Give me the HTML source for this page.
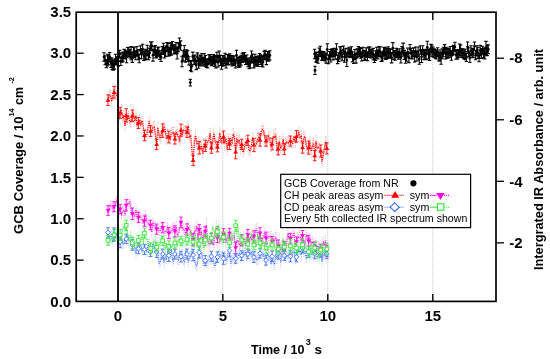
<!DOCTYPE html>
<html><head><meta charset="utf-8"><style>
html,body{margin:0;padding:0;background:#fff;}
svg{display:block;}
.b{font-family:"Liberation Sans",Arial,sans-serif;font-weight:bold;fill:#000;}
.r{font-family:"Liberation Sans",Arial,sans-serif;font-weight:normal;fill:#000;}
</style></head><body>
<svg width="550" height="359" viewBox="0 0 550 359">
<line x1="222.80" y1="12.2" x2="222.80" y2="301.4" stroke="#c4c4c4" stroke-width="1" stroke-dasharray="1,1"/>
<line x1="327.80" y1="12.2" x2="327.80" y2="301.4" stroke="#c4c4c4" stroke-width="1" stroke-dasharray="1,1"/>
<line x1="432.80" y1="12.2" x2="432.80" y2="301.4" stroke="#c4c4c4" stroke-width="1" stroke-dasharray="1,1"/>
<path d="M104.00 52.72V61.19M102.30 52.72h3.40M102.30 61.19h3.40M105.15 55.70V64.66M103.45 55.70h3.40M103.45 64.66h3.40M106.30 59.55V67.68M104.60 59.55h3.40M104.60 67.68h3.40M107.45 54.30V65.90M105.75 54.30h3.40M105.75 65.90h3.40M108.60 54.18V64.70M106.90 54.18h3.40M106.90 64.70h3.40M109.75 52.40V61.46M108.05 52.40h3.40M108.05 61.46h3.40M110.90 57.73V67.43M109.20 57.73h3.40M109.20 67.43h3.40M112.05 58.03V69.73M110.35 58.03h3.40M110.35 69.73h3.40M113.20 60.80V70.14M111.50 60.80h3.40M111.50 70.14h3.40M114.35 59.72V69.10M112.65 59.72h3.40M112.65 69.10h3.40M115.50 54.21V63.95M113.80 54.21h3.40M113.80 63.95h3.40M116.65 56.65V64.97M114.95 56.65h3.40M114.95 64.97h3.40M118.50 56.44V66.10M116.80 56.44h3.40M116.80 66.10h3.40M119.65 50.15V58.20M117.95 50.15h3.40M117.95 58.20h3.40M120.80 57.10V65.49M119.10 57.10h3.40M119.10 65.49h3.40M121.95 52.74V62.10M120.25 52.74h3.40M120.25 62.10h3.40M123.10 52.03V61.33M121.40 52.03h3.40M121.40 61.33h3.40M124.25 49.35V58.17M122.55 49.35h3.40M122.55 58.17h3.40M125.40 50.23V58.85M123.70 50.23h3.40M123.70 58.85h3.40M126.55 51.53V62.77M124.85 51.53h3.40M124.85 62.77h3.40M127.70 47.59V56.81M126.00 47.59h3.40M126.00 56.81h3.40M128.85 47.16V56.45M127.15 47.16h3.40M127.15 56.45h3.40M130.00 49.61V57.94M128.30 49.61h3.40M128.30 57.94h3.40M131.15 46.51V59.69M129.45 46.51h3.40M129.45 59.69h3.40M132.30 53.94V62.38M130.60 53.94h3.40M130.60 62.38h3.40M133.45 47.56V57.05M131.75 47.56h3.40M131.75 57.05h3.40M134.60 46.91V57.69M132.90 46.91h3.40M132.90 57.69h3.40M135.75 50.79V59.75M134.05 50.79h3.40M134.05 59.75h3.40M136.90 46.51V56.33M135.20 46.51h3.40M135.20 56.33h3.40M138.05 49.62V59.81M136.35 49.62h3.40M136.35 59.81h3.40M139.20 54.18V62.83M137.50 54.18h3.40M137.50 62.83h3.40M140.35 45.68V54.71M138.65 45.68h3.40M138.65 54.71h3.40M141.50 48.62V58.70M139.80 48.62h3.40M139.80 58.70h3.40M142.65 44.25V54.47M140.95 44.25h3.40M140.95 54.47h3.40M143.80 50.99V60.51M142.10 50.99h3.40M142.10 60.51h3.40M144.95 49.30V60.08M143.25 49.30h3.40M143.25 60.08h3.40M146.10 50.70V59.07M144.40 50.70h3.40M144.40 59.07h3.40M147.25 45.17V55.53M145.55 45.17h3.40M145.55 55.53h3.40M148.40 51.04V59.76M146.70 51.04h3.40M146.70 59.76h3.40M149.55 48.14V57.72M147.85 48.14h3.40M147.85 57.72h3.40M150.70 41.85V50.61M149.00 41.85h3.40M149.00 50.61h3.40M151.85 41.82V50.41M150.15 41.82h3.40M150.15 50.41h3.40M153.00 49.18V61.12M151.30 49.18h3.40M151.30 61.12h3.40M154.15 46.20V55.18M152.45 46.20h3.40M152.45 55.18h3.40M155.30 45.51V57.92M153.60 45.51h3.40M153.60 57.92h3.40M156.45 49.83V57.90M154.75 49.83h3.40M154.75 57.90h3.40M157.60 46.96V56.78M155.90 46.96h3.40M155.90 56.78h3.40M158.75 47.31V55.58M157.05 47.31h3.40M157.05 55.58h3.40M159.90 50.73V59.42M158.20 50.73h3.40M158.20 59.42h3.40M161.05 52.83V61.56M159.35 52.83h3.40M159.35 61.56h3.40M162.20 46.46V54.47M160.50 46.46h3.40M160.50 54.47h3.40M163.35 43.22V54.38M161.65 43.22h3.40M161.65 54.38h3.40M164.50 47.58V58.06M162.80 47.58h3.40M162.80 58.06h3.40M165.65 45.95V56.38M163.95 45.95h3.40M163.95 56.38h3.40M166.80 42.51V50.90M165.10 42.51h3.40M165.10 50.90h3.40M167.95 43.51V56.34M166.25 43.51h3.40M166.25 56.34h3.40M169.10 47.28V56.02M167.40 47.28h3.40M167.40 56.02h3.40M170.25 42.78V54.71M168.55 42.78h3.40M168.55 54.71h3.40M171.40 42.53V55.25M169.70 42.53h3.40M169.70 55.25h3.40M172.55 41.50V49.80M170.85 41.50h3.40M170.85 49.80h3.40M173.70 44.61V53.94M172.00 44.61h3.40M172.00 53.94h3.40M174.85 44.47V53.97M173.15 44.47h3.40M173.15 53.97h3.40M176.00 42.40V53.21M174.30 42.40h3.40M174.30 53.21h3.40M177.15 47.85V58.92M175.45 47.85h3.40M175.45 58.92h3.40M178.30 43.12V51.84M176.60 43.12h3.40M176.60 51.84h3.40M179.45 38.07V48.28M177.75 38.07h3.40M177.75 48.28h3.40M180.60 40.88V49.91M178.90 40.88h3.40M178.90 49.91h3.40M182.00 56.27V66.73M180.30 56.27h3.40M180.30 66.73h3.40M183.15 50.82V60.89M181.45 50.82h3.40M181.45 60.89h3.40M184.30 45.58V55.85M182.60 45.58h3.40M182.60 55.85h3.40M185.45 51.62V62.17M183.75 51.62h3.40M183.75 62.17h3.40M186.60 49.83V59.40M184.90 49.83h3.40M184.90 59.40h3.40M187.75 50.72V61.28M186.05 50.72h3.40M186.05 61.28h3.40M188.90 56.70V65.04M187.20 56.70h3.40M187.20 65.04h3.40M190.50 60.60V70.64M188.80 60.60h3.40M188.80 70.64h3.40M191.65 61.01V71.65M189.95 61.01h3.40M189.95 71.65h3.40M192.80 52.12V60.89M191.10 52.12h3.40M191.10 60.89h3.40M193.95 56.01V64.63M192.25 56.01h3.40M192.25 64.63h3.40M195.10 55.01V64.39M193.40 55.01h3.40M193.40 64.39h3.40M196.25 60.38V69.61M194.55 60.38h3.40M194.55 69.61h3.40M197.40 52.86V61.58M195.70 52.86h3.40M195.70 61.58h3.40M198.55 58.49V68.23M196.85 58.49h3.40M196.85 68.23h3.40M199.70 55.01V64.92M198.00 55.01h3.40M198.00 64.92h3.40M200.85 55.84V65.88M199.15 55.84h3.40M199.15 65.88h3.40M202.00 53.51V64.23M200.30 53.51h3.40M200.30 64.23h3.40M203.15 57.18V65.85M201.45 57.18h3.40M201.45 65.85h3.40M204.30 53.65V64.50M202.60 53.65h3.40M202.60 64.50h3.40M205.45 55.49V66.42M203.75 55.49h3.40M203.75 66.42h3.40M206.60 58.76V67.52M204.90 58.76h3.40M204.90 67.52h3.40M207.75 59.64V68.07M206.05 59.64h3.40M206.05 68.07h3.40M208.90 54.78V63.22M207.20 54.78h3.40M207.20 63.22h3.40M210.05 54.57V64.16M208.35 54.57h3.40M208.35 64.16h3.40M211.20 55.91V65.68M209.50 55.91h3.40M209.50 65.68h3.40M212.35 56.88V64.96M210.65 56.88h3.40M210.65 64.96h3.40M213.50 54.50V63.75M211.80 54.50h3.40M211.80 63.75h3.40M214.65 56.44V66.47M212.95 56.44h3.40M212.95 66.47h3.40M215.80 55.50V67.90M214.10 55.50h3.40M214.10 67.90h3.40M216.95 52.17V60.19M215.25 52.17h3.40M215.25 60.19h3.40M218.10 57.18V67.09M216.40 57.18h3.40M216.40 67.09h3.40M219.25 51.06V61.45M217.55 51.06h3.40M217.55 61.45h3.40M220.40 55.35V65.57M218.70 55.35h3.40M218.70 65.57h3.40M221.55 58.18V69.17M219.85 58.18h3.40M219.85 69.17h3.40M222.70 55.68V66.14M221.00 55.68h3.40M221.00 66.14h3.40M223.85 55.60V65.60M222.15 55.60h3.40M222.15 65.60h3.40M225.00 53.16V63.78M223.30 53.16h3.40M223.30 63.78h3.40M226.15 59.65V68.09M224.45 59.65h3.40M224.45 68.09h3.40M227.30 54.41V64.09M225.60 54.41h3.40M225.60 64.09h3.40M228.45 55.17V64.93M226.75 55.17h3.40M226.75 64.93h3.40M229.60 53.66V61.66M227.90 53.66h3.40M227.90 61.66h3.40M230.75 55.21V64.22M229.05 55.21h3.40M229.05 64.22h3.40M231.90 55.47V65.95M230.20 55.47h3.40M230.20 65.95h3.40M233.05 55.78V64.39M231.35 55.78h3.40M231.35 64.39h3.40M234.20 56.00V65.55M232.50 56.00h3.40M232.50 65.55h3.40M235.35 58.90V67.95M233.65 58.90h3.40M233.65 67.95h3.40M236.50 50.20V60.81M234.80 50.20h3.40M234.80 60.81h3.40M237.65 57.23V66.29M235.95 57.23h3.40M235.95 66.29h3.40M238.80 57.51V67.55M237.10 57.51h3.40M237.10 67.55h3.40M239.95 56.60V66.89M238.25 56.60h3.40M238.25 66.89h3.40M241.10 55.17V65.19M239.40 55.17h3.40M239.40 65.19h3.40M242.25 53.34V62.39M240.55 53.34h3.40M240.55 62.39h3.40M243.40 52.59V61.66M241.70 52.59h3.40M241.70 61.66h3.40M244.55 52.54V61.88M242.85 52.54h3.40M242.85 61.88h3.40M245.70 55.30V64.44M244.00 55.30h3.40M244.00 64.44h3.40M246.85 55.09V64.56M245.15 55.09h3.40M245.15 64.56h3.40M248.00 58.31V66.75M246.30 58.31h3.40M246.30 66.75h3.40M249.15 59.55V68.79M247.45 59.55h3.40M247.45 68.79h3.40M250.30 57.41V68.06M248.60 57.41h3.40M248.60 68.06h3.40M251.45 50.90V61.43M249.75 50.90h3.40M249.75 61.43h3.40M252.60 53.97V62.99M250.90 53.97h3.40M250.90 62.99h3.40M253.75 57.05V67.89M252.05 57.05h3.40M252.05 67.89h3.40M254.90 54.31V66.30M253.20 54.31h3.40M253.20 66.30h3.40M256.05 57.11V65.38M254.35 57.11h3.40M254.35 65.38h3.40M257.20 56.48V64.58M255.50 56.48h3.40M255.50 64.58h3.40M258.35 55.72V66.44M256.65 55.72h3.40M256.65 66.44h3.40M259.50 53.59V62.83M257.80 53.59h3.40M257.80 62.83h3.40M260.65 54.87V64.46M258.95 54.87h3.40M258.95 64.46h3.40M261.80 56.08V66.16M260.10 56.08h3.40M260.10 66.16h3.40M262.95 57.09V66.92M261.25 57.09h3.40M261.25 66.92h3.40M264.10 51.33V59.82M262.40 51.33h3.40M262.40 59.82h3.40M265.25 50.25V58.75M263.55 50.25h3.40M263.55 58.75h3.40M266.40 54.38V64.63M264.70 54.38h3.40M264.70 64.63h3.40M267.55 51.50V61.19M265.85 51.50h3.40M265.85 61.19h3.40M268.70 51.79V61.27M267.00 51.79h3.40M267.00 61.27h3.40M269.85 50.81V60.04M268.15 50.81h3.40M268.15 60.04h3.40M314.60 49.22V58.80M312.90 49.22h3.40M312.90 58.80h3.40M315.75 52.98V62.04M314.05 52.98h3.40M314.05 62.04h3.40M316.90 52.14V62.56M315.20 52.14h3.40M315.20 62.56h3.40M318.05 54.49V63.31M316.35 54.49h3.40M316.35 63.31h3.40M319.20 47.91V56.82M317.50 47.91h3.40M317.50 56.82h3.40M320.35 46.29V56.39M318.65 46.29h3.40M318.65 56.39h3.40M321.50 51.31V60.21M319.80 51.31h3.40M319.80 60.21h3.40M322.65 52.02V60.38M320.95 52.02h3.40M320.95 60.38h3.40M323.80 51.60V59.94M322.10 51.60h3.40M322.10 59.94h3.40M324.95 53.01V61.09M323.25 53.01h3.40M323.25 61.09h3.40M326.10 53.15V63.13M324.40 53.15h3.40M324.40 63.13h3.40M327.25 43.74V55.19M325.55 43.74h3.40M325.55 55.19h3.40M328.40 54.97V63.79M326.70 54.97h3.40M326.70 63.79h3.40M329.55 51.42V59.57M327.85 51.42h3.40M327.85 59.57h3.40M330.70 49.47V61.99M329.00 49.47h3.40M329.00 61.99h3.40M331.85 48.84V57.05M330.15 48.84h3.40M330.15 57.05h3.40M333.00 49.89V59.99M331.30 49.89h3.40M331.30 59.99h3.40M334.15 48.21V56.68M332.45 48.21h3.40M332.45 56.68h3.40M335.30 50.42V59.27M333.60 50.42h3.40M333.60 59.27h3.40M336.45 43.81V54.89M334.75 43.81h3.40M334.75 54.89h3.40M337.60 55.36V63.64M335.90 55.36h3.40M335.90 63.64h3.40M338.75 52.77V61.54M337.05 52.77h3.40M337.05 61.54h3.40M339.90 46.66V58.99M338.20 46.66h3.40M338.20 58.99h3.40M341.05 46.46V56.21M339.35 46.46h3.40M339.35 56.21h3.40M342.20 52.64V60.75M340.50 52.64h3.40M340.50 60.75h3.40M343.35 45.98V54.34M341.65 45.98h3.40M341.65 54.34h3.40M344.50 51.31V62.31M342.80 51.31h3.40M342.80 62.31h3.40M345.65 48.34V58.00M343.95 48.34h3.40M343.95 58.00h3.40M346.80 53.81V66.40M345.10 53.81h3.40M345.10 66.40h3.40M347.95 48.70V56.83M346.25 48.70h3.40M346.25 56.83h3.40M349.10 47.25V57.00M347.40 47.25h3.40M347.40 57.00h3.40M350.25 48.71V57.81M348.55 48.71h3.40M348.55 57.81h3.40M351.40 46.75V56.56M349.70 46.75h3.40M349.70 56.56h3.40M352.55 52.08V61.87M350.85 52.08h3.40M350.85 61.87h3.40M353.70 54.45V63.43M352.00 54.45h3.40M352.00 63.43h3.40M354.85 49.42V59.50M353.15 49.42h3.40M353.15 59.50h3.40M356.00 53.17V63.13M354.30 53.17h3.40M354.30 63.13h3.40M357.15 48.85V57.75M355.45 48.85h3.40M355.45 57.75h3.40M358.30 46.45V55.25M356.60 46.45h3.40M356.60 55.25h3.40M359.45 47.56V56.47M357.75 47.56h3.40M357.75 56.47h3.40M360.60 48.58V58.32M358.90 48.58h3.40M358.90 58.32h3.40M361.75 52.89V60.92M360.05 52.89h3.40M360.05 60.92h3.40M362.90 47.25V55.29M361.20 47.25h3.40M361.20 55.29h3.40M364.05 50.78V60.57M362.35 50.78h3.40M362.35 60.57h3.40M365.20 50.18V59.88M363.50 50.18h3.40M363.50 59.88h3.40M366.35 47.89V57.27M364.65 47.89h3.40M364.65 57.27h3.40M367.50 52.16V60.80M365.80 52.16h3.40M365.80 60.80h3.40M368.65 46.99V57.53M366.95 46.99h3.40M366.95 57.53h3.40M369.80 46.85V56.30M368.10 46.85h3.40M368.10 56.30h3.40M370.95 49.28V57.91M369.25 49.28h3.40M369.25 57.91h3.40M372.10 49.22V58.03M370.40 49.22h3.40M370.40 58.03h3.40M373.25 48.39V60.03M371.55 48.39h3.40M371.55 60.03h3.40M374.40 54.28V62.48M372.70 54.28h3.40M372.70 62.48h3.40M375.55 50.66V60.55M373.85 50.66h3.40M373.85 60.55h3.40M376.70 47.19V58.95M375.00 47.19h3.40M375.00 58.95h3.40M377.85 49.68V59.00M376.15 49.68h3.40M376.15 59.00h3.40M379.00 46.46V56.63M377.30 46.46h3.40M377.30 56.63h3.40M380.15 46.80V56.02M378.45 46.80h3.40M378.45 56.02h3.40M381.30 52.81V61.37M379.60 52.81h3.40M379.60 61.37h3.40M382.45 52.26V61.03M380.75 52.26h3.40M380.75 61.03h3.40M383.60 47.27V55.68M381.90 47.27h3.40M381.90 55.68h3.40M384.75 47.39V58.65M383.05 47.39h3.40M383.05 58.65h3.40M385.90 49.03V59.47M384.20 49.03h3.40M384.20 59.47h3.40M387.05 48.35V58.68M385.35 48.35h3.40M385.35 58.68h3.40M388.20 46.78V57.14M386.50 46.78h3.40M386.50 57.14h3.40M389.35 48.47V58.30M387.65 48.47h3.40M387.65 58.30h3.40M390.50 49.52V57.94M388.80 49.52h3.40M388.80 57.94h3.40M391.65 52.62V62.87M389.95 52.62h3.40M389.95 62.87h3.40M392.80 42.60V53.93M391.10 42.60h3.40M391.10 53.93h3.40M393.95 50.88V59.54M392.25 50.88h3.40M392.25 59.54h3.40M395.10 50.50V60.29M393.40 50.50h3.40M393.40 60.29h3.40M396.25 48.29V57.72M394.55 48.29h3.40M394.55 57.72h3.40M397.40 48.89V57.23M395.70 48.89h3.40M395.70 57.23h3.40M398.55 50.99V59.30M396.85 50.99h3.40M396.85 59.30h3.40M399.70 48.68V57.77M398.00 48.68h3.40M398.00 57.77h3.40M400.85 52.29V62.91M399.15 52.29h3.40M399.15 62.91h3.40M402.00 46.61V56.20M400.30 46.61h3.40M400.30 56.20h3.40M403.15 43.14V53.90M401.45 43.14h3.40M401.45 53.90h3.40M404.30 50.39V59.54M402.60 50.39h3.40M402.60 59.54h3.40M405.45 51.97V63.34M403.75 51.97h3.40M403.75 63.34h3.40M406.60 52.33V61.34M404.90 52.33h3.40M404.90 61.34h3.40M407.75 48.00V56.96M406.05 48.00h3.40M406.05 56.96h3.40M408.90 52.81V62.62M407.20 52.81h3.40M407.20 62.62h3.40M410.05 44.40V53.53M408.35 44.40h3.40M408.35 53.53h3.40M411.20 48.19V58.65M409.50 48.19h3.40M409.50 58.65h3.40M412.35 50.49V59.02M410.65 50.49h3.40M410.65 59.02h3.40M413.50 47.86V56.72M411.80 47.86h3.40M411.80 56.72h3.40M414.65 50.78V62.04M412.95 50.78h3.40M412.95 62.04h3.40M415.80 46.90V56.58M414.10 46.90h3.40M414.10 56.58h3.40M416.95 52.66V60.97M415.25 52.66h3.40M415.25 60.97h3.40M418.10 46.98V56.55M416.40 46.98h3.40M416.40 56.55h3.40M419.25 54.05V64.16M417.55 54.05h3.40M417.55 64.16h3.40M420.40 45.79V54.14M418.70 45.79h3.40M418.70 54.14h3.40M421.55 51.00V62.56M419.85 51.00h3.40M419.85 62.56h3.40M422.70 45.77V54.54M421.00 45.77h3.40M421.00 54.54h3.40M423.85 50.24V59.82M422.15 50.24h3.40M422.15 59.82h3.40M425.00 49.84V58.10M423.30 49.84h3.40M423.30 58.10h3.40M426.15 49.26V59.61M424.45 49.26h3.40M424.45 59.61h3.40M427.30 41.32V53.56M425.60 41.32h3.40M425.60 53.56h3.40M428.45 48.96V58.96M426.75 48.96h3.40M426.75 58.96h3.40M429.60 49.25V60.41M427.90 49.25h3.40M427.90 60.41h3.40M430.75 44.33V52.86M429.05 44.33h3.40M429.05 52.86h3.40M431.90 45.07V56.69M430.20 45.07h3.40M430.20 56.69h3.40M433.05 47.03V56.57M431.35 47.03h3.40M431.35 56.57h3.40M434.20 48.68V57.48M432.50 48.68h3.40M432.50 57.48h3.40M435.35 49.71V58.12M433.65 49.71h3.40M433.65 58.12h3.40M436.50 50.75V58.92M434.80 50.75h3.40M434.80 58.92h3.40M437.65 47.78V56.42M435.95 47.78h3.40M435.95 56.42h3.40M438.80 52.40V60.92M437.10 52.40h3.40M437.10 60.92h3.40M439.95 49.91V61.27M438.25 49.91h3.40M438.25 61.27h3.40M441.10 52.06V64.31M439.40 52.06h3.40M439.40 64.31h3.40M442.25 48.71V58.71M440.55 48.71h3.40M440.55 58.71h3.40M443.40 47.32V56.70M441.70 47.32h3.40M441.70 56.70h3.40M444.55 44.60V53.92M442.85 44.60h3.40M442.85 53.92h3.40M445.70 47.36V59.09M444.00 47.36h3.40M444.00 59.09h3.40M446.85 48.33V57.97M445.15 48.33h3.40M445.15 57.97h3.40M448.00 48.14V58.27M446.30 48.14h3.40M446.30 58.27h3.40M449.15 49.17V57.52M447.45 49.17h3.40M447.45 57.52h3.40M450.30 46.48V55.79M448.60 46.48h3.40M448.60 55.79h3.40M451.45 51.05V60.34M449.75 51.05h3.40M449.75 60.34h3.40M452.60 46.37V55.27M450.90 46.37h3.40M450.90 55.27h3.40M453.75 45.23V54.24M452.05 45.23h3.40M452.05 54.24h3.40M454.90 42.34V51.43M453.20 42.34h3.40M453.20 51.43h3.40M456.05 50.32V59.27M454.35 50.32h3.40M454.35 59.27h3.40M457.20 49.87V59.13M455.50 49.87h3.40M455.50 59.13h3.40M458.35 49.53V57.80M456.65 49.53h3.40M456.65 57.80h3.40M459.50 43.94V56.16M457.80 43.94h3.40M457.80 56.16h3.40M460.65 45.06V55.72M458.95 45.06h3.40M458.95 55.72h3.40M461.80 48.58V57.56M460.10 48.58h3.40M460.10 57.56h3.40M462.95 49.54V57.72M461.25 49.54h3.40M461.25 57.72h3.40M464.10 48.99V58.88M462.40 48.99h3.40M462.40 58.88h3.40M465.25 48.97V59.70M463.55 48.97h3.40M463.55 59.70h3.40M466.40 53.37V61.40M464.70 53.37h3.40M464.70 61.40h3.40M467.55 41.94V51.64M465.85 41.94h3.40M465.85 51.64h3.40M468.70 47.78V56.37M467.00 47.78h3.40M467.00 56.37h3.40M469.85 53.48V62.52M468.15 53.48h3.40M468.15 62.52h3.40M471.00 45.70V55.63M469.30 45.70h3.40M469.30 55.63h3.40M472.15 48.23V57.57M470.45 48.23h3.40M470.45 57.57h3.40M473.30 49.25V57.62M471.60 49.25h3.40M471.60 57.62h3.40M474.45 42.07V50.63M472.75 42.07h3.40M472.75 50.63h3.40M475.60 50.80V59.79M473.90 50.80h3.40M473.90 59.79h3.40M476.75 45.74V55.73M475.05 45.74h3.40M475.05 55.73h3.40M477.90 47.33V58.42M476.20 47.33h3.40M476.20 58.42h3.40M479.05 53.32V61.69M477.35 53.32h3.40M477.35 61.69h3.40M480.20 45.24V55.64M478.50 45.24h3.40M478.50 55.64h3.40M481.35 48.60V58.58M479.65 48.60h3.40M479.65 58.58h3.40M482.50 46.29V54.66M480.80 46.29h3.40M480.80 54.66h3.40M483.65 47.85V57.81M481.95 47.85h3.40M481.95 57.81h3.40M484.80 48.44V58.94M483.10 48.44h3.40M483.10 58.94h3.40M485.95 41.36V54.60M484.25 41.36h3.40M484.25 54.60h3.40M487.10 45.40V55.61M485.40 45.40h3.40M485.40 55.61h3.40M488.25 44.87V53.67M486.55 44.87h3.40M486.55 53.67h3.40M190.30 79.30V85.90M188.60 79.30h3.40M188.60 85.90h3.40M315.00 66.30V74.50M313.30 66.30h3.40M313.30 74.50h3.40" stroke="#000" stroke-width="1.05" fill="none"/>
<g fill="#000"><circle cx="104.00" cy="56.95" r="1.4"/><circle cx="105.15" cy="60.18" r="1.4"/><circle cx="106.30" cy="63.62" r="1.4"/><circle cx="107.45" cy="60.10" r="1.4"/><circle cx="108.60" cy="59.44" r="1.4"/><circle cx="109.75" cy="56.93" r="1.4"/><circle cx="110.90" cy="62.58" r="1.4"/><circle cx="112.05" cy="63.88" r="1.4"/><circle cx="113.20" cy="65.47" r="1.4"/><circle cx="114.35" cy="64.41" r="1.4"/><circle cx="115.50" cy="59.08" r="1.4"/><circle cx="116.65" cy="60.81" r="1.4"/><circle cx="118.50" cy="61.27" r="1.4"/><circle cx="119.65" cy="54.17" r="1.4"/><circle cx="120.80" cy="61.29" r="1.4"/><circle cx="121.95" cy="57.42" r="1.4"/><circle cx="123.10" cy="56.68" r="1.4"/><circle cx="124.25" cy="53.76" r="1.4"/><circle cx="125.40" cy="54.54" r="1.4"/><circle cx="126.55" cy="57.15" r="1.4"/><circle cx="127.70" cy="52.20" r="1.4"/><circle cx="128.85" cy="51.81" r="1.4"/><circle cx="130.00" cy="53.78" r="1.4"/><circle cx="131.15" cy="53.10" r="1.4"/><circle cx="132.30" cy="58.16" r="1.4"/><circle cx="133.45" cy="52.31" r="1.4"/><circle cx="134.60" cy="52.30" r="1.4"/><circle cx="135.75" cy="55.27" r="1.4"/><circle cx="136.90" cy="51.42" r="1.4"/><circle cx="138.05" cy="54.71" r="1.4"/><circle cx="139.20" cy="58.51" r="1.4"/><circle cx="140.35" cy="50.20" r="1.4"/><circle cx="141.50" cy="53.66" r="1.4"/><circle cx="142.65" cy="49.36" r="1.4"/><circle cx="143.80" cy="55.75" r="1.4"/><circle cx="144.95" cy="54.69" r="1.4"/><circle cx="146.10" cy="54.88" r="1.4"/><circle cx="147.25" cy="50.35" r="1.4"/><circle cx="148.40" cy="55.40" r="1.4"/><circle cx="149.55" cy="52.93" r="1.4"/><circle cx="150.70" cy="46.23" r="1.4"/><circle cx="151.85" cy="46.11" r="1.4"/><circle cx="153.00" cy="55.15" r="1.4"/><circle cx="154.15" cy="50.69" r="1.4"/><circle cx="155.30" cy="51.71" r="1.4"/><circle cx="156.45" cy="53.87" r="1.4"/><circle cx="157.60" cy="51.87" r="1.4"/><circle cx="158.75" cy="51.44" r="1.4"/><circle cx="159.90" cy="55.08" r="1.4"/><circle cx="161.05" cy="57.19" r="1.4"/><circle cx="162.20" cy="50.46" r="1.4"/><circle cx="163.35" cy="48.80" r="1.4"/><circle cx="164.50" cy="52.82" r="1.4"/><circle cx="165.65" cy="51.17" r="1.4"/><circle cx="166.80" cy="46.70" r="1.4"/><circle cx="167.95" cy="49.93" r="1.4"/><circle cx="169.10" cy="51.65" r="1.4"/><circle cx="170.25" cy="48.75" r="1.4"/><circle cx="171.40" cy="48.89" r="1.4"/><circle cx="172.55" cy="45.65" r="1.4"/><circle cx="173.70" cy="49.28" r="1.4"/><circle cx="174.85" cy="49.22" r="1.4"/><circle cx="176.00" cy="47.81" r="1.4"/><circle cx="177.15" cy="53.38" r="1.4"/><circle cx="178.30" cy="47.48" r="1.4"/><circle cx="179.45" cy="43.17" r="1.4"/><circle cx="180.60" cy="45.40" r="1.4"/><circle cx="182.00" cy="61.50" r="1.4"/><circle cx="183.15" cy="55.86" r="1.4"/><circle cx="184.30" cy="50.71" r="1.4"/><circle cx="185.45" cy="56.89" r="1.4"/><circle cx="186.60" cy="54.61" r="1.4"/><circle cx="187.75" cy="56.00" r="1.4"/><circle cx="188.90" cy="60.87" r="1.4"/><circle cx="190.50" cy="65.62" r="1.4"/><circle cx="191.65" cy="66.33" r="1.4"/><circle cx="192.80" cy="56.51" r="1.4"/><circle cx="193.95" cy="60.32" r="1.4"/><circle cx="195.10" cy="59.70" r="1.4"/><circle cx="196.25" cy="64.99" r="1.4"/><circle cx="197.40" cy="57.22" r="1.4"/><circle cx="198.55" cy="63.36" r="1.4"/><circle cx="199.70" cy="59.97" r="1.4"/><circle cx="200.85" cy="60.86" r="1.4"/><circle cx="202.00" cy="58.87" r="1.4"/><circle cx="203.15" cy="61.51" r="1.4"/><circle cx="204.30" cy="59.08" r="1.4"/><circle cx="205.45" cy="60.96" r="1.4"/><circle cx="206.60" cy="63.14" r="1.4"/><circle cx="207.75" cy="63.85" r="1.4"/><circle cx="208.90" cy="59.00" r="1.4"/><circle cx="210.05" cy="59.36" r="1.4"/><circle cx="211.20" cy="60.80" r="1.4"/><circle cx="212.35" cy="60.92" r="1.4"/><circle cx="213.50" cy="59.13" r="1.4"/><circle cx="214.65" cy="61.45" r="1.4"/><circle cx="215.80" cy="61.70" r="1.4"/><circle cx="216.95" cy="56.18" r="1.4"/><circle cx="218.10" cy="62.14" r="1.4"/><circle cx="219.25" cy="56.25" r="1.4"/><circle cx="220.40" cy="60.46" r="1.4"/><circle cx="221.55" cy="63.68" r="1.4"/><circle cx="222.70" cy="60.91" r="1.4"/><circle cx="223.85" cy="60.60" r="1.4"/><circle cx="225.00" cy="58.47" r="1.4"/><circle cx="226.15" cy="63.87" r="1.4"/><circle cx="227.30" cy="59.25" r="1.4"/><circle cx="228.45" cy="60.05" r="1.4"/><circle cx="229.60" cy="57.66" r="1.4"/><circle cx="230.75" cy="59.72" r="1.4"/><circle cx="231.90" cy="60.71" r="1.4"/><circle cx="233.05" cy="60.09" r="1.4"/><circle cx="234.20" cy="60.78" r="1.4"/><circle cx="235.35" cy="63.43" r="1.4"/><circle cx="236.50" cy="55.50" r="1.4"/><circle cx="237.65" cy="61.76" r="1.4"/><circle cx="238.80" cy="62.53" r="1.4"/><circle cx="239.95" cy="61.75" r="1.4"/><circle cx="241.10" cy="60.18" r="1.4"/><circle cx="242.25" cy="57.87" r="1.4"/><circle cx="243.40" cy="57.13" r="1.4"/><circle cx="244.55" cy="57.21" r="1.4"/><circle cx="245.70" cy="59.87" r="1.4"/><circle cx="246.85" cy="59.83" r="1.4"/><circle cx="248.00" cy="62.53" r="1.4"/><circle cx="249.15" cy="64.17" r="1.4"/><circle cx="250.30" cy="62.73" r="1.4"/><circle cx="251.45" cy="56.17" r="1.4"/><circle cx="252.60" cy="58.48" r="1.4"/><circle cx="253.75" cy="62.47" r="1.4"/><circle cx="254.90" cy="60.30" r="1.4"/><circle cx="256.05" cy="61.24" r="1.4"/><circle cx="257.20" cy="60.53" r="1.4"/><circle cx="258.35" cy="61.08" r="1.4"/><circle cx="259.50" cy="58.21" r="1.4"/><circle cx="260.65" cy="59.66" r="1.4"/><circle cx="261.80" cy="61.12" r="1.4"/><circle cx="262.95" cy="62.00" r="1.4"/><circle cx="264.10" cy="55.58" r="1.4"/><circle cx="265.25" cy="54.50" r="1.4"/><circle cx="266.40" cy="59.50" r="1.4"/><circle cx="267.55" cy="56.35" r="1.4"/><circle cx="268.70" cy="56.53" r="1.4"/><circle cx="269.85" cy="55.42" r="1.4"/><circle cx="314.60" cy="54.01" r="1.4"/><circle cx="315.75" cy="57.51" r="1.4"/><circle cx="316.90" cy="57.35" r="1.4"/><circle cx="318.05" cy="58.90" r="1.4"/><circle cx="319.20" cy="52.37" r="1.4"/><circle cx="320.35" cy="51.34" r="1.4"/><circle cx="321.50" cy="55.76" r="1.4"/><circle cx="322.65" cy="56.20" r="1.4"/><circle cx="323.80" cy="55.77" r="1.4"/><circle cx="324.95" cy="57.05" r="1.4"/><circle cx="326.10" cy="58.14" r="1.4"/><circle cx="327.25" cy="49.47" r="1.4"/><circle cx="328.40" cy="59.38" r="1.4"/><circle cx="329.55" cy="55.50" r="1.4"/><circle cx="330.70" cy="55.73" r="1.4"/><circle cx="331.85" cy="52.95" r="1.4"/><circle cx="333.00" cy="54.94" r="1.4"/><circle cx="334.15" cy="52.45" r="1.4"/><circle cx="335.30" cy="54.84" r="1.4"/><circle cx="336.45" cy="49.35" r="1.4"/><circle cx="337.60" cy="59.50" r="1.4"/><circle cx="338.75" cy="57.16" r="1.4"/><circle cx="339.90" cy="52.82" r="1.4"/><circle cx="341.05" cy="51.33" r="1.4"/><circle cx="342.20" cy="56.69" r="1.4"/><circle cx="343.35" cy="50.16" r="1.4"/><circle cx="344.50" cy="56.81" r="1.4"/><circle cx="345.65" cy="53.17" r="1.4"/><circle cx="346.80" cy="60.10" r="1.4"/><circle cx="347.95" cy="52.77" r="1.4"/><circle cx="349.10" cy="52.12" r="1.4"/><circle cx="350.25" cy="53.26" r="1.4"/><circle cx="351.40" cy="51.65" r="1.4"/><circle cx="352.55" cy="56.98" r="1.4"/><circle cx="353.70" cy="58.94" r="1.4"/><circle cx="354.85" cy="54.46" r="1.4"/><circle cx="356.00" cy="58.15" r="1.4"/><circle cx="357.15" cy="53.30" r="1.4"/><circle cx="358.30" cy="50.85" r="1.4"/><circle cx="359.45" cy="52.02" r="1.4"/><circle cx="360.60" cy="53.45" r="1.4"/><circle cx="361.75" cy="56.90" r="1.4"/><circle cx="362.90" cy="51.27" r="1.4"/><circle cx="364.05" cy="55.67" r="1.4"/><circle cx="365.20" cy="55.03" r="1.4"/><circle cx="366.35" cy="52.58" r="1.4"/><circle cx="367.50" cy="56.48" r="1.4"/><circle cx="368.65" cy="52.26" r="1.4"/><circle cx="369.80" cy="51.58" r="1.4"/><circle cx="370.95" cy="53.59" r="1.4"/><circle cx="372.10" cy="53.62" r="1.4"/><circle cx="373.25" cy="54.21" r="1.4"/><circle cx="374.40" cy="58.38" r="1.4"/><circle cx="375.55" cy="55.60" r="1.4"/><circle cx="376.70" cy="53.07" r="1.4"/><circle cx="377.85" cy="54.34" r="1.4"/><circle cx="379.00" cy="51.55" r="1.4"/><circle cx="380.15" cy="51.41" r="1.4"/><circle cx="381.30" cy="57.09" r="1.4"/><circle cx="382.45" cy="56.65" r="1.4"/><circle cx="383.60" cy="51.47" r="1.4"/><circle cx="384.75" cy="53.02" r="1.4"/><circle cx="385.90" cy="54.25" r="1.4"/><circle cx="387.05" cy="53.52" r="1.4"/><circle cx="388.20" cy="51.96" r="1.4"/><circle cx="389.35" cy="53.38" r="1.4"/><circle cx="390.50" cy="53.73" r="1.4"/><circle cx="391.65" cy="57.75" r="1.4"/><circle cx="392.80" cy="48.26" r="1.4"/><circle cx="393.95" cy="55.21" r="1.4"/><circle cx="395.10" cy="55.39" r="1.4"/><circle cx="396.25" cy="53.01" r="1.4"/><circle cx="397.40" cy="53.06" r="1.4"/><circle cx="398.55" cy="55.15" r="1.4"/><circle cx="399.70" cy="53.23" r="1.4"/><circle cx="400.85" cy="57.60" r="1.4"/><circle cx="402.00" cy="51.41" r="1.4"/><circle cx="403.15" cy="48.52" r="1.4"/><circle cx="404.30" cy="54.97" r="1.4"/><circle cx="405.45" cy="57.65" r="1.4"/><circle cx="406.60" cy="56.83" r="1.4"/><circle cx="407.75" cy="52.48" r="1.4"/><circle cx="408.90" cy="57.72" r="1.4"/><circle cx="410.05" cy="48.97" r="1.4"/><circle cx="411.20" cy="53.42" r="1.4"/><circle cx="412.35" cy="54.75" r="1.4"/><circle cx="413.50" cy="52.29" r="1.4"/><circle cx="414.65" cy="56.41" r="1.4"/><circle cx="415.80" cy="51.74" r="1.4"/><circle cx="416.95" cy="56.81" r="1.4"/><circle cx="418.10" cy="51.77" r="1.4"/><circle cx="419.25" cy="59.11" r="1.4"/><circle cx="420.40" cy="49.97" r="1.4"/><circle cx="421.55" cy="56.78" r="1.4"/><circle cx="422.70" cy="50.16" r="1.4"/><circle cx="423.85" cy="55.03" r="1.4"/><circle cx="425.00" cy="53.97" r="1.4"/><circle cx="426.15" cy="54.43" r="1.4"/><circle cx="427.30" cy="47.44" r="1.4"/><circle cx="428.45" cy="53.96" r="1.4"/><circle cx="429.60" cy="54.83" r="1.4"/><circle cx="430.75" cy="48.60" r="1.4"/><circle cx="431.90" cy="50.88" r="1.4"/><circle cx="433.05" cy="51.80" r="1.4"/><circle cx="434.20" cy="53.08" r="1.4"/><circle cx="435.35" cy="53.92" r="1.4"/><circle cx="436.50" cy="54.84" r="1.4"/><circle cx="437.65" cy="52.10" r="1.4"/><circle cx="438.80" cy="56.66" r="1.4"/><circle cx="439.95" cy="55.59" r="1.4"/><circle cx="441.10" cy="58.18" r="1.4"/><circle cx="442.25" cy="53.71" r="1.4"/><circle cx="443.40" cy="52.01" r="1.4"/><circle cx="444.55" cy="49.26" r="1.4"/><circle cx="445.70" cy="53.23" r="1.4"/><circle cx="446.85" cy="53.15" r="1.4"/><circle cx="448.00" cy="53.21" r="1.4"/><circle cx="449.15" cy="53.35" r="1.4"/><circle cx="450.30" cy="51.14" r="1.4"/><circle cx="451.45" cy="55.69" r="1.4"/><circle cx="452.60" cy="50.82" r="1.4"/><circle cx="453.75" cy="49.74" r="1.4"/><circle cx="454.90" cy="46.89" r="1.4"/><circle cx="456.05" cy="54.80" r="1.4"/><circle cx="457.20" cy="54.50" r="1.4"/><circle cx="458.35" cy="53.67" r="1.4"/><circle cx="459.50" cy="50.05" r="1.4"/><circle cx="460.65" cy="50.39" r="1.4"/><circle cx="461.80" cy="53.07" r="1.4"/><circle cx="462.95" cy="53.63" r="1.4"/><circle cx="464.10" cy="53.93" r="1.4"/><circle cx="465.25" cy="54.33" r="1.4"/><circle cx="466.40" cy="57.39" r="1.4"/><circle cx="467.55" cy="46.79" r="1.4"/><circle cx="468.70" cy="52.08" r="1.4"/><circle cx="469.85" cy="58.00" r="1.4"/><circle cx="471.00" cy="50.66" r="1.4"/><circle cx="472.15" cy="52.90" r="1.4"/><circle cx="473.30" cy="53.43" r="1.4"/><circle cx="474.45" cy="46.35" r="1.4"/><circle cx="475.60" cy="55.29" r="1.4"/><circle cx="476.75" cy="50.74" r="1.4"/><circle cx="477.90" cy="52.87" r="1.4"/><circle cx="479.05" cy="57.50" r="1.4"/><circle cx="480.20" cy="50.44" r="1.4"/><circle cx="481.35" cy="53.59" r="1.4"/><circle cx="482.50" cy="50.47" r="1.4"/><circle cx="483.65" cy="52.83" r="1.4"/><circle cx="484.80" cy="53.69" r="1.4"/><circle cx="485.95" cy="47.98" r="1.4"/><circle cx="487.10" cy="50.50" r="1.4"/><circle cx="488.25" cy="49.27" r="1.4"/><circle cx="190.30" cy="82.60" r="1.4"/><circle cx="315.00" cy="70.40" r="1.4"/></g>
<path d="M109.22 89.74V100.84M110.43 89.83V100.80M111.65 94.51V108.32M112.86 90.48V100.74M115.30 85.02V98.61M116.51 90.30V100.67M117.73 90.09V101.63M118.94 112.60V123.19M121.38 104.46V114.84M122.59 113.10V123.77M123.81 110.90V121.49M125.02 120.88V130.94M127.46 112.69V124.97M128.67 110.80V121.73M129.89 117.00V127.23M131.10 114.92V127.19M133.54 106.84V120.93M134.75 115.78V126.22M135.97 109.95V121.34M137.18 119.81V129.92M139.62 114.51V124.88M140.83 118.58V130.19M142.05 115.62V125.73M143.26 121.15V132.33M145.70 128.33V141.13M146.91 129.63V140.59M148.13 120.98V131.64M149.34 116.07V126.40M151.78 126.70V136.97M152.99 121.55V133.66M154.21 121.23V132.98M155.42 128.73V141.68M157.86 122.35V132.49M159.07 130.29V141.01M160.29 132.44V144.23M161.50 127.78V138.55M163.94 121.71V132.86M165.15 124.82V134.90M166.37 132.74V145.86M167.58 128.68V140.74M170.02 132.42V145.63M171.23 127.68V139.41M172.45 126.98V138.17M173.66 127.04V137.88M176.10 127.31V137.66M177.31 128.78V139.08M178.53 131.50V143.43M179.74 134.58V146.20M182.18 130.02V140.12M183.39 124.36V135.98M184.61 125.93V136.00M185.82 124.90V135.28M188.26 120.80V131.27M189.47 130.57V142.48M190.69 130.14V141.48M191.90 144.85V154.96M194.34 135.48V148.03M195.55 129.79V141.35M196.77 137.88V149.20M197.98 137.26V149.08M200.42 141.78V154.13M201.63 139.97V151.27M202.85 148.51V159.84M204.06 137.89V148.45M206.50 140.19V150.47M207.71 135.96V147.40M208.93 134.64V145.72M210.14 128.27V138.56M212.58 137.44V148.32M213.79 127.56V139.04M215.01 135.02V147.98M216.22 137.69V149.18M218.66 136.90V149.58M219.87 127.51V138.52M221.09 136.67V149.25M222.30 131.99V142.31M224.74 134.85V148.16M225.95 133.34V144.04M227.17 144.28V155.77M228.38 133.87V145.42M230.82 133.63V145.59M232.03 136.92V147.56M233.25 128.28V139.68M234.46 131.92V142.91M236.90 132.77V146.08M238.11 135.68V148.67M239.33 134.47V144.78M240.54 144.71V155.14M242.98 147.08V157.70M244.19 143.70V154.51M245.41 136.22V147.53M246.62 138.43V148.73M249.06 145.64V156.10M250.27 145.57V155.73M251.49 139.86V149.97M252.70 132.49V142.53M255.14 137.58V150.90M256.35 137.65V149.47M257.57 133.20V146.27M258.78 132.22V143.17M261.22 125.97V136.70M262.43 123.42V135.89M263.65 125.34V135.87M264.86 131.87V146.10M267.30 134.53V146.94M268.51 131.33V141.68M269.73 132.48V144.05M270.94 142.11V152.21M273.38 129.45V143.03M274.59 132.91V143.19M275.81 128.26V141.04M277.02 144.49V156.01M279.46 136.19V146.76M280.67 143.64V153.69M281.89 141.53V151.76M283.10 133.80V144.23M285.54 137.83V149.40M286.75 136.47V148.05M287.97 136.98V149.49M289.18 135.37V148.27M291.62 137.89V148.76M292.83 138.03V148.57M294.05 131.14V141.35M295.26 136.26V148.44M297.70 130.43V142.07M298.91 127.38V138.53M300.13 131.80V143.13M301.34 130.75V141.91M303.78 131.67V144.44M304.99 131.26V141.58M306.21 140.84V151.39M307.42 143.11V153.79M309.86 136.47V148.00M311.07 145.43V157.45M312.29 139.66V153.68M313.50 137.81V148.06M315.94 134.95V147.66M317.15 142.78V153.24M318.37 141.54V151.82M319.58 143.08V153.20M322.02 156.39V167.61M323.23 149.65V159.75M324.45 142.92V153.34M325.66 135.88V147.80" stroke="#ff0000" stroke-width="0.8" stroke-dasharray="1,1.2" fill="none" opacity="0.5"/><path d="M108.00 100.20 L109.22 95.29 L110.43 95.32 L111.65 101.41 L112.86 95.61 L114.08 92.30 L115.30 91.82 L116.51 95.49 L117.73 95.86 L118.94 117.89 L120.16 113.00 L121.38 109.65 L122.59 118.44 L123.81 116.20 L125.02 125.91 L126.24 115.30 L127.46 118.83 L128.67 116.27 L129.89 122.12 L131.10 121.05 L132.32 115.80 L133.54 113.89 L134.75 121.00 L135.97 115.64 L137.18 124.86 L138.40 123.00 L139.62 119.69 L140.83 124.38 L142.05 120.67 L143.26 126.74 L144.48 135.50 L145.70 134.73 L146.91 135.11 L148.13 126.31 L149.34 121.24 L150.56 131.10 L151.78 131.84 L152.99 127.60 L154.21 127.11 L155.42 135.20 L156.64 144.40 L157.86 127.42 L159.07 135.65 L160.29 138.33 L161.50 133.16 L162.72 130.60 L163.94 127.28 L165.15 129.86 L166.37 139.30 L167.58 134.71 L168.80 137.00 L170.02 139.02 L171.23 133.54 L172.45 132.57 L173.66 132.46 L174.88 139.00 L176.10 132.48 L177.31 133.93 L178.53 137.47 L179.74 140.39 L180.96 130.20 L182.18 135.07 L183.39 130.17 L184.61 130.96 L185.82 130.09 L187.04 132.20 L188.26 126.03 L189.47 136.53 L190.69 135.81 L191.90 149.91 L193.12 160.50 L194.34 141.75 L195.55 135.57 L196.77 143.54 L197.98 143.17 L199.20 147.80 L200.42 147.96 L201.63 145.62 L202.85 154.17 L204.06 143.17 L205.28 145.80 L206.50 145.33 L207.71 141.68 L208.93 140.18 L210.14 133.42 L211.36 147.80 L212.58 142.88 L213.79 133.30 L215.01 141.50 L216.22 143.44 L217.44 146.80 L218.66 143.24 L219.87 133.02 L221.09 142.96 L222.30 137.15 L223.52 137.00 L224.74 141.50 L225.95 138.69 L227.17 150.03 L228.38 139.65 L229.60 143.90 L230.82 139.61 L232.03 142.24 L233.25 133.98 L234.46 137.41 L235.68 152.00 L236.90 139.43 L238.11 142.17 L239.33 139.62 L240.54 149.92 L241.76 144.40 L242.98 152.39 L244.19 149.10 L245.41 141.87 L246.62 143.58 L247.84 140.40 L249.06 150.87 L250.27 150.65 L251.49 144.91 L252.70 137.51 L253.92 145.00 L255.14 144.24 L256.35 143.56 L257.57 139.74 L258.78 137.70 L260.00 140.00 L261.22 131.34 L262.43 129.65 L263.65 130.61 L264.86 138.98 L266.08 141.00 L267.30 140.73 L268.51 136.51 L269.73 138.27 L270.94 147.16 L272.16 144.00 L273.38 136.24 L274.59 138.05 L275.81 134.65 L277.02 150.25 L278.24 149.00 L279.46 141.47 L280.67 148.66 L281.89 146.64 L283.10 139.02 L284.32 149.00 L285.54 143.62 L286.75 142.26 L287.97 143.23 L289.18 141.82 L290.40 141.00 L291.62 143.33 L292.83 143.30 L294.05 136.24 L295.26 142.35 L296.48 136.40 L297.70 136.25 L298.91 132.96 L300.13 137.47 L301.34 136.33 L302.56 147.60 L303.78 138.05 L304.99 136.42 L306.21 146.11 L307.42 148.45 L308.64 147.60 L309.86 142.24 L311.07 151.44 L312.29 146.67 L313.50 142.94 L314.72 155.60 L315.94 141.31 L317.15 148.01 L318.37 146.68 L319.58 148.14 L320.80 151.00 L322.02 162.00 L323.23 154.70 L324.45 148.13 L325.66 141.84 L326.88 148.40" stroke="#ff0000" stroke-width="1.3" stroke-dasharray="1.2,1" fill="none"/><path d="M108.00 94.88V105.52M106.20 94.88h3.60M106.20 105.52h3.60M114.08 86.41V98.19M112.28 86.41h3.60M112.28 98.19h3.60M120.16 107.39V118.61M118.36 107.39h3.60M118.36 118.61h3.60M126.24 108.72V121.88M124.44 108.72h3.60M124.44 121.88h3.60M132.32 110.01V121.59M130.52 110.01h3.60M130.52 121.59h3.60M138.40 117.55V128.45M136.60 117.55h3.60M136.60 128.45h3.60M144.48 130.20V140.80M142.68 130.20h3.60M142.68 140.80h3.60M150.56 125.66V136.54M148.76 125.66h3.60M148.76 136.54h3.60M156.64 139.19V149.61M154.84 139.19h3.60M154.84 149.61h3.60M162.72 123.85V137.35M160.92 123.85h3.60M160.92 137.35h3.60M168.80 131.08V142.92M167.00 131.08h3.60M167.00 142.92h3.60M174.88 133.95V144.05M173.08 133.95h3.60M173.08 144.05h3.60M180.96 124.11V136.29M179.16 124.11h3.60M179.16 136.29h3.60M187.04 126.99V137.41M185.24 126.99h3.60M185.24 137.41h3.60M193.12 155.38V165.62M191.32 155.38h3.60M191.32 165.62h3.60M199.20 141.52V154.08M197.40 141.52h3.60M197.40 154.08h3.60M205.28 140.13V151.47M203.48 140.13h3.60M203.48 151.47h3.60M211.36 142.36V153.24M209.56 142.36h3.60M209.56 153.24h3.60M217.44 141.73V151.87M215.64 141.73h3.60M215.64 151.87h3.60M223.52 131.04V142.96M221.72 131.04h3.60M221.72 142.96h3.60M229.60 138.30V149.50M227.80 138.30h3.60M227.80 149.50h3.60M235.68 145.18V158.82M233.88 145.18h3.60M233.88 158.82h3.60M241.76 139.23V149.57M239.96 139.23h3.60M239.96 149.57h3.60M247.84 135.21V145.59M246.04 135.21h3.60M246.04 145.59h3.60M253.92 138.35V151.65M252.12 138.35h3.60M252.12 151.65h3.60M260.00 133.88V146.12M258.20 133.88h3.60M258.20 146.12h3.60M266.08 135.83V146.17M264.28 135.83h3.60M264.28 146.17h3.60M272.16 138.04V149.96M270.36 138.04h3.60M270.36 149.96h3.60M278.24 143.06V154.94M276.44 143.06h3.60M276.44 154.94h3.60M284.32 143.38V154.62M282.52 143.38h3.60M282.52 154.62h3.60M290.40 135.98V146.02M288.60 135.98h3.60M288.60 146.02h3.60M296.48 130.60V142.20M294.68 130.60h3.60M294.68 142.20h3.60M302.56 142.01V153.19M300.76 142.01h3.60M300.76 153.19h3.60M308.64 141.03V154.17M306.84 141.03h3.60M306.84 154.17h3.60M314.72 150.51V160.69M312.92 150.51h3.60M312.92 160.69h3.60M320.80 144.94V157.06M319.00 144.94h3.60M319.00 157.06h3.60M326.88 142.79V154.01M325.08 142.79h3.60M325.08 154.01h3.60" stroke="#ff0000" stroke-width="0.9" fill="none"/><polygon points="108.00,97.80 105.60,101.80 110.40,101.80" fill="#ff0000"/><polygon points="114.08,89.90 111.68,93.90 116.48,93.90" fill="#ff0000"/><polygon points="120.16,110.60 117.76,114.60 122.56,114.60" fill="#ff0000"/><polygon points="126.24,112.90 123.84,116.90 128.64,116.90" fill="#ff0000"/><polygon points="132.32,113.40 129.92,117.40 134.72,117.40" fill="#ff0000"/><polygon points="138.40,120.60 136.00,124.60 140.80,124.60" fill="#ff0000"/><polygon points="144.48,133.10 142.08,137.10 146.88,137.10" fill="#ff0000"/><polygon points="150.56,128.70 148.16,132.70 152.96,132.70" fill="#ff0000"/><polygon points="156.64,142.00 154.24,146.00 159.04,146.00" fill="#ff0000"/><polygon points="162.72,128.20 160.32,132.20 165.12,132.20" fill="#ff0000"/><polygon points="168.80,134.60 166.40,138.60 171.20,138.60" fill="#ff0000"/><polygon points="174.88,136.60 172.48,140.60 177.28,140.60" fill="#ff0000"/><polygon points="180.96,127.80 178.56,131.80 183.36,131.80" fill="#ff0000"/><polygon points="187.04,129.80 184.64,133.80 189.44,133.80" fill="#ff0000"/><polygon points="193.12,158.10 190.72,162.10 195.52,162.10" fill="#ff0000"/><polygon points="199.20,145.40 196.80,149.40 201.60,149.40" fill="#ff0000"/><polygon points="205.28,143.40 202.88,147.40 207.68,147.40" fill="#ff0000"/><polygon points="211.36,145.40 208.96,149.40 213.76,149.40" fill="#ff0000"/><polygon points="217.44,144.40 215.04,148.40 219.84,148.40" fill="#ff0000"/><polygon points="223.52,134.60 221.12,138.60 225.92,138.60" fill="#ff0000"/><polygon points="229.60,141.50 227.20,145.50 232.00,145.50" fill="#ff0000"/><polygon points="235.68,149.60 233.28,153.60 238.08,153.60" fill="#ff0000"/><polygon points="241.76,142.00 239.36,146.00 244.16,146.00" fill="#ff0000"/><polygon points="247.84,138.00 245.44,142.00 250.24,142.00" fill="#ff0000"/><polygon points="253.92,142.60 251.52,146.60 256.32,146.60" fill="#ff0000"/><polygon points="260.00,137.60 257.60,141.60 262.40,141.60" fill="#ff0000"/><polygon points="266.08,138.60 263.68,142.60 268.48,142.60" fill="#ff0000"/><polygon points="272.16,141.60 269.76,145.60 274.56,145.60" fill="#ff0000"/><polygon points="278.24,146.60 275.84,150.60 280.64,150.60" fill="#ff0000"/><polygon points="284.32,146.60 281.92,150.60 286.72,150.60" fill="#ff0000"/><polygon points="290.40,138.60 288.00,142.60 292.80,142.60" fill="#ff0000"/><polygon points="296.48,134.00 294.08,138.00 298.88,138.00" fill="#ff0000"/><polygon points="302.56,145.20 300.16,149.20 304.96,149.20" fill="#ff0000"/><polygon points="308.64,145.20 306.24,149.20 311.04,149.20" fill="#ff0000"/><polygon points="314.72,153.20 312.32,157.20 317.12,157.20" fill="#ff0000"/><polygon points="320.80,148.60 318.40,152.60 323.20,152.60" fill="#ff0000"/><polygon points="326.88,146.00 324.48,150.00 329.28,150.00" fill="#ff0000"/>
<path d="M109.22 204.17V214.80M110.43 199.89V210.65M111.65 201.26V211.35M112.86 202.89V214.12M115.30 198.88V210.74M116.51 196.12V206.23M117.73 196.19V207.75M118.94 205.18V218.10M121.38 208.87V220.17M122.59 206.24V215.96M123.81 204.14V217.04M125.02 208.50V218.62M127.46 199.27V208.84M128.67 198.93V209.13M129.89 196.61V207.00M131.10 203.07V215.65M133.54 207.53V217.61M134.75 211.39V221.64M135.97 203.43V215.36M137.18 211.73V221.19M139.62 212.48V222.54M140.83 212.76V222.17M142.05 213.88V224.68M143.26 218.92V228.12M145.70 209.60V218.98M146.91 217.83V227.20M148.13 217.64V228.46M149.34 220.34V229.95M151.78 226.75V237.94M152.99 217.45V227.29M154.21 220.77V231.58M155.42 220.70V231.69M157.86 222.75V232.88M159.07 225.54V236.09M160.29 225.87V235.54M161.50 222.93V232.56M163.94 226.24V235.45M165.15 226.13V237.69M166.37 225.43V236.76M167.58 222.66V233.16M170.02 227.70V239.86M171.23 226.13V235.40M172.45 223.54V234.05M173.66 222.40V232.93M176.10 221.25V232.10M177.31 230.76V241.85M178.53 227.26V238.18M179.74 223.19V233.42M182.18 221.06V232.42M183.39 223.61V234.56M184.61 225.27V235.34M185.82 228.71V238.37M188.26 221.52V231.25M189.47 225.27V235.40M190.69 226.27V236.16M191.90 230.69V240.57M194.34 225.94V236.04M195.55 226.42V236.87M196.77 221.03V231.39M197.98 234.64V245.93M200.42 227.85V238.07M201.63 227.44V236.90M202.85 238.79V248.00M204.06 226.91V237.64M206.50 218.35V231.43M207.71 235.45V245.21M208.93 238.77V248.96M210.14 237.73V249.07M212.58 237.42V246.84M213.79 240.17V249.80M215.01 228.96V238.19M216.22 220.80V232.12M218.66 227.91V237.12M219.87 236.56V246.32M221.09 234.74V244.13M222.30 231.03V241.22M224.74 233.27V243.35M225.95 235.53V247.51M227.17 233.29V243.01M228.38 232.22V242.89M230.82 236.94V246.27M232.03 235.44V244.67M233.25 232.94V242.48M234.46 231.57V243.05M236.90 236.01V245.32M238.11 235.78V245.55M239.33 239.98V250.12M240.54 238.89V249.53M242.98 235.34V244.81M244.19 234.27V244.02M245.41 238.56V248.66M246.62 235.39V246.06M249.06 237.06V247.18M250.27 231.83V241.13M251.49 233.89V244.72M252.70 231.83V242.52M255.14 227.29V239.06M256.35 223.35V233.62M257.57 229.90V240.81M258.78 234.26V245.19M261.22 236.75V246.50M262.43 233.23V244.19M263.65 232.62V242.77M264.86 227.79V238.07M267.30 232.59V244.78M268.51 231.62V241.28M269.73 231.54V242.53M270.94 231.00V240.73M273.38 233.72V245.05M274.59 236.01V245.43M275.81 229.85V243.76M277.02 238.76V248.68M279.46 239.77V249.31M280.67 244.61V254.41M281.89 244.76V254.55M283.10 241.35V250.66M285.54 244.00V255.19M286.75 236.18V247.22M287.97 228.17V237.99M289.18 232.63V244.94M291.62 233.34V242.73M292.83 230.46V240.17M294.05 228.88V238.37M295.26 240.56V250.60M297.70 232.34V241.83M298.91 231.54V243.29M300.13 231.41V243.08M301.34 234.55V245.75M303.78 235.96V246.75M304.99 240.78V250.30M306.21 229.75V239.48M307.42 233.78V243.03M309.86 233.55V243.10M311.07 238.79V249.27M312.29 236.43V246.59M313.50 238.70V248.42M315.94 246.91V257.00M317.15 241.97V251.28M318.37 241.15V250.49M319.58 245.80V258.59M322.02 250.49V259.76M323.23 236.47V246.84M324.45 240.60V249.92M325.66 235.70V245.80" stroke="#ff00e0" stroke-width="0.8" stroke-dasharray="1,1.2" fill="none" opacity="0.5"/><path d="M108.00 210.50 L109.22 209.48 L110.43 205.27 L111.65 206.31 L112.86 208.50 L114.08 206.70 L115.30 204.81 L116.51 201.17 L117.73 201.97 L118.94 211.64 L120.16 209.00 L121.38 214.52 L122.59 211.10 L123.81 210.59 L125.02 213.56 L126.24 205.30 L127.46 204.05 L128.67 204.03 L129.89 201.81 L131.10 209.36 L132.32 213.80 L133.54 212.57 L134.75 216.51 L135.97 209.39 L137.18 216.46 L138.40 217.30 L139.62 217.51 L140.83 217.47 L142.05 219.28 L143.26 223.52 L144.48 221.10 L145.70 214.29 L146.91 222.52 L148.13 223.05 L149.34 225.15 L150.56 225.10 L151.78 232.34 L152.99 222.37 L154.21 226.17 L155.42 226.19 L156.64 229.20 L157.86 227.81 L159.07 230.82 L160.29 230.70 L161.50 227.75 L162.72 227.60 L163.94 230.84 L165.15 231.91 L166.37 231.09 L167.58 227.91 L168.80 233.00 L170.02 233.78 L171.23 230.76 L172.45 228.80 L173.66 227.66 L174.88 231.30 L176.10 226.67 L177.31 236.30 L178.53 232.72 L179.74 228.30 L180.96 222.40 L182.18 226.74 L183.39 229.09 L184.61 230.31 L185.82 233.54 L187.04 229.50 L188.26 226.39 L189.47 230.34 L190.69 231.21 L191.90 235.63 L193.12 239.50 L194.34 230.99 L195.55 231.64 L196.77 226.21 L197.98 240.28 L199.20 229.50 L200.42 232.96 L201.63 232.17 L202.85 243.40 L204.06 232.27 L205.28 231.50 L206.50 224.89 L207.71 240.33 L208.93 243.87 L210.14 243.40 L211.36 238.70 L212.58 242.13 L213.79 244.99 L215.01 233.58 L216.22 226.46 L217.44 238.00 L218.66 232.51 L219.87 241.44 L221.09 239.44 L222.30 236.13 L223.52 234.10 L224.74 238.31 L225.95 241.52 L227.17 238.15 L228.38 237.56 L229.60 233.40 L230.82 241.61 L232.03 240.05 L233.25 237.71 L234.46 237.31 L235.68 247.90 L236.90 240.66 L238.11 240.66 L239.33 245.05 L240.54 244.21 L241.76 240.30 L242.98 240.08 L244.19 239.15 L245.41 243.61 L246.62 240.72 L247.84 234.90 L249.06 242.12 L250.27 236.48 L251.49 239.30 L252.70 237.17 L253.92 236.40 L255.14 233.17 L256.35 228.49 L257.57 235.35 L258.78 239.73 L260.00 233.10 L261.22 241.62 L262.43 238.71 L263.65 237.70 L264.86 232.93 L266.08 238.00 L267.30 238.68 L268.51 236.45 L269.73 237.03 L270.94 235.87 L272.16 241.30 L273.38 239.39 L274.59 240.72 L275.81 236.81 L277.02 243.72 L278.24 245.60 L279.46 244.54 L280.67 249.51 L281.89 249.65 L283.10 246.01 L284.32 246.40 L285.54 249.60 L286.75 241.70 L287.97 233.08 L289.18 238.79 L290.40 238.30 L291.62 238.04 L292.83 235.32 L294.05 233.63 L295.26 245.58 L296.48 241.80 L297.70 237.08 L298.91 237.41 L300.13 237.24 L301.34 240.15 L302.56 235.70 L303.78 241.35 L304.99 245.54 L306.21 234.62 L307.42 238.40 L308.64 241.00 L309.86 238.32 L311.07 244.03 L312.29 241.51 L313.50 243.56 L314.72 247.20 L315.94 251.96 L317.15 246.62 L318.37 245.82 L319.58 252.20 L320.80 249.50 L322.02 255.12 L323.23 241.66 L324.45 245.26 L325.66 240.75 L326.88 251.00" stroke="#ff00e0" stroke-width="1.1" stroke-dasharray="1,1" fill="none"/><path d="M108.00 205.63V215.37M106.20 205.63h3.60M106.20 215.37h3.60M114.08 201.76V211.64M112.28 201.76h3.60M112.28 211.64h3.60M120.16 204.33V213.67M118.36 204.33h3.60M118.36 213.67h3.60M126.24 199.66V210.94M124.44 199.66h3.60M124.44 210.94h3.60M132.32 208.04V219.56M130.52 208.04h3.60M130.52 219.56h3.60M138.40 212.18V222.42M136.60 212.18h3.60M136.60 222.42h3.60M144.48 215.83V226.37M142.68 215.83h3.60M142.68 226.37h3.60M150.56 220.25V229.95M148.76 220.25h3.60M148.76 229.95h3.60M156.64 224.14V234.26M154.84 224.14h3.60M154.84 234.26h3.60M162.72 222.42V232.78M160.92 222.42h3.60M160.92 232.78h3.60M168.80 227.37V238.63M167.00 227.37h3.60M167.00 238.63h3.60M174.88 225.79V236.81M173.08 225.79h3.60M173.08 236.81h3.60M180.96 217.07V227.73M179.16 217.07h3.60M179.16 227.73h3.60M187.04 223.83V235.17M185.24 223.83h3.60M185.24 235.17h3.60M193.12 233.59V245.41M191.32 233.59h3.60M191.32 245.41h3.60M199.20 224.67V234.33M197.40 224.67h3.60M197.40 234.33h3.60M205.28 226.48V236.52M203.48 226.48h3.60M203.48 236.52h3.60M211.36 233.59V243.81M209.56 233.59h3.60M209.56 243.81h3.60M217.44 233.32V242.68M215.64 233.32h3.60M215.64 242.68h3.60M223.52 228.70V239.50M221.72 228.70h3.60M221.72 239.50h3.60M229.60 228.26V238.54M227.80 228.26h3.60M227.80 238.54h3.60M235.68 242.01V253.79M233.88 242.01h3.60M233.88 253.79h3.60M241.76 234.75V245.85M239.96 234.75h3.60M239.96 245.85h3.60M247.84 229.41V240.39M246.04 229.41h3.60M246.04 240.39h3.60M253.92 230.76V242.04M252.12 230.76h3.60M252.12 242.04h3.60M260.00 227.70V238.50M258.20 227.70h3.60M258.20 238.50h3.60M266.08 232.07V243.93M264.28 232.07h3.60M264.28 243.93h3.60M272.16 236.60V246.00M270.36 236.60h3.60M270.36 246.00h3.60M278.24 239.89V251.31M276.44 239.89h3.60M276.44 251.31h3.60M284.32 241.38V251.42M282.52 241.38h3.60M282.52 251.42h3.60M290.40 233.38V243.22M288.60 233.38h3.60M288.60 243.22h3.60M296.48 236.94V246.66M294.68 236.94h3.60M294.68 246.66h3.60M302.56 230.51V240.89M300.76 230.51h3.60M300.76 240.89h3.60M308.64 235.62V246.38M306.84 235.62h3.60M306.84 246.38h3.60M314.72 241.89V252.51M312.92 241.89h3.60M312.92 252.51h3.60M320.80 244.21V254.79M319.00 244.21h3.60M319.00 254.79h3.60M326.88 245.58V256.42M325.08 245.58h3.60M325.08 256.42h3.60" stroke="#ff00e0" stroke-width="0.9" fill="none"/><polygon points="105.60,208.90 110.40,208.90 108.00,212.90" fill="#ff00e0"/><polygon points="111.68,205.10 116.48,205.10 114.08,209.10" fill="#ff00e0"/><polygon points="117.76,207.40 122.56,207.40 120.16,211.40" fill="#ff00e0"/><polygon points="123.84,203.70 128.64,203.70 126.24,207.70" fill="#ff00e0"/><polygon points="129.92,212.20 134.72,212.20 132.32,216.20" fill="#ff00e0"/><polygon points="136.00,215.70 140.80,215.70 138.40,219.70" fill="#ff00e0"/><polygon points="142.08,219.50 146.88,219.50 144.48,223.50" fill="#ff00e0"/><polygon points="148.16,223.50 152.96,223.50 150.56,227.50" fill="#ff00e0"/><polygon points="154.24,227.60 159.04,227.60 156.64,231.60" fill="#ff00e0"/><polygon points="160.32,226.00 165.12,226.00 162.72,230.00" fill="#ff00e0"/><polygon points="166.40,231.40 171.20,231.40 168.80,235.40" fill="#ff00e0"/><polygon points="172.48,229.70 177.28,229.70 174.88,233.70" fill="#ff00e0"/><polygon points="178.56,220.80 183.36,220.80 180.96,224.80" fill="#ff00e0"/><polygon points="184.64,227.90 189.44,227.90 187.04,231.90" fill="#ff00e0"/><polygon points="190.72,237.90 195.52,237.90 193.12,241.90" fill="#ff00e0"/><polygon points="196.80,227.90 201.60,227.90 199.20,231.90" fill="#ff00e0"/><polygon points="202.88,229.90 207.68,229.90 205.28,233.90" fill="#ff00e0"/><polygon points="208.96,237.10 213.76,237.10 211.36,241.10" fill="#ff00e0"/><polygon points="215.04,236.40 219.84,236.40 217.44,240.40" fill="#ff00e0"/><polygon points="221.12,232.50 225.92,232.50 223.52,236.50" fill="#ff00e0"/><polygon points="227.20,231.80 232.00,231.80 229.60,235.80" fill="#ff00e0"/><polygon points="233.28,246.30 238.08,246.30 235.68,250.30" fill="#ff00e0"/><polygon points="239.36,238.70 244.16,238.70 241.76,242.70" fill="#ff00e0"/><polygon points="245.44,233.30 250.24,233.30 247.84,237.30" fill="#ff00e0"/><polygon points="251.52,234.80 256.32,234.80 253.92,238.80" fill="#ff00e0"/><polygon points="257.60,231.50 262.40,231.50 260.00,235.50" fill="#ff00e0"/><polygon points="263.68,236.40 268.48,236.40 266.08,240.40" fill="#ff00e0"/><polygon points="269.76,239.70 274.56,239.70 272.16,243.70" fill="#ff00e0"/><polygon points="275.84,244.00 280.64,244.00 278.24,248.00" fill="#ff00e0"/><polygon points="281.92,244.80 286.72,244.80 284.32,248.80" fill="#ff00e0"/><polygon points="288.00,236.70 292.80,236.70 290.40,240.70" fill="#ff00e0"/><polygon points="294.08,240.20 298.88,240.20 296.48,244.20" fill="#ff00e0"/><polygon points="300.16,234.10 304.96,234.10 302.56,238.10" fill="#ff00e0"/><polygon points="306.24,239.40 311.04,239.40 308.64,243.40" fill="#ff00e0"/><polygon points="312.32,245.60 317.12,245.60 314.72,249.60" fill="#ff00e0"/><polygon points="318.40,247.90 323.20,247.90 320.80,251.90" fill="#ff00e0"/><polygon points="324.48,249.40 329.28,249.40 326.88,253.40" fill="#ff00e0"/>
<path d="M109.22 234.62V244.68M110.43 231.29V240.69M111.65 230.98V242.72M112.86 237.09V246.96M115.30 232.69V242.25M116.51 228.21V239.91M117.73 225.51V237.50M118.94 235.56V246.21M121.38 230.23V240.28M122.59 239.41V249.14M123.81 238.76V248.28M125.02 233.74V244.06M127.46 230.06V240.53M128.67 234.64V244.51M129.89 235.63V246.29M131.10 237.08V247.70M133.54 236.37V246.09M134.75 243.24V253.19M135.97 248.52V259.34M137.18 240.38V249.67M139.62 241.49V250.69M140.83 239.48V250.47M142.05 245.84V255.90M143.26 243.75V253.00M145.70 243.49V253.34M146.91 247.38V256.75M148.13 239.12V250.26M149.34 239.32V252.52M151.78 243.67V252.88M152.99 238.66V248.60M154.21 243.12V253.95M155.42 239.31V251.89M157.86 246.28V256.07M159.07 258.51V267.86M160.29 257.39V266.67M161.50 249.65V259.98M163.94 257.81V268.15M165.15 250.70V261.07M166.37 254.25V265.56M167.58 245.47V256.38M170.02 251.76V261.40M171.23 244.57V253.77M172.45 253.39V264.83M173.66 256.42V265.96M176.10 247.77V257.08M177.31 254.49V264.28M178.53 255.24V265.02M179.74 248.42V258.92M182.18 249.19V259.79M183.39 254.58V266.02M184.61 254.91V268.35M185.82 245.56V254.92M188.26 257.61V267.94M189.47 251.13V260.91M190.69 251.52V262.18M191.90 245.70V256.35M194.34 253.62V263.07M195.55 259.64V269.23M196.77 261.35V271.50M197.98 254.31V264.02M200.42 249.26V258.65M201.63 247.54V259.01M202.85 254.44V264.69M204.06 258.70V269.14M206.50 258.44V268.31M207.71 255.85V265.65M208.93 254.56V264.95M210.14 252.71V265.09M212.58 251.35V262.69M213.79 257.90V267.92M215.01 260.67V271.59M216.22 253.80V266.35M218.66 250.00V260.80M219.87 249.08V259.71M221.09 251.55V261.09M222.30 250.91V260.38M224.74 251.21V261.09M225.95 255.80V265.50M227.17 254.68V264.82M228.38 244.79V255.37M230.82 258.66V268.36M232.03 254.54V264.07M233.25 252.97V262.95M234.46 253.16V264.79M236.90 251.03V260.61M238.11 250.15V260.73M239.33 248.28V258.52M240.54 250.21V263.23M242.98 246.36V257.18M244.19 250.26V261.06M245.41 245.69V257.91M246.62 251.28V260.99M249.06 243.25V255.43M250.27 249.37V260.93M251.49 246.18V256.39M252.70 252.92V262.65M255.14 249.62V260.97M256.35 254.70V264.71M257.57 255.48V265.22M258.78 252.60V263.93M261.22 248.68V258.47M262.43 249.79V261.52M263.65 249.09V259.87M264.86 256.86V266.87M267.30 245.98V259.37M268.51 251.55V262.04M269.73 251.62V261.33M270.94 258.88V269.39M273.38 258.21V267.61M274.59 258.22V270.88M275.81 250.49V260.14M277.02 251.84V263.91M279.46 245.25V255.40M280.67 257.84V268.06M281.89 248.12V258.68M283.10 240.25V251.07M285.54 253.56V263.00M286.75 251.13V260.36M287.97 250.87V260.79M289.18 249.39V258.96M291.62 250.74V261.75M292.83 247.89V257.09M294.05 246.68V256.53M295.26 254.60V265.46M297.70 243.83V256.32M298.91 247.19V257.46M300.13 245.12V255.87M301.34 249.67V260.22M303.78 247.52V257.35M304.99 246.43V255.67M306.21 252.33V262.64M307.42 248.54V259.09M309.86 249.44V261.46M311.07 249.20V259.95M312.29 247.71V257.77M313.50 248.57V258.49M315.94 238.03V250.17M317.15 252.75V263.54M318.37 249.86V259.24M319.58 247.04V257.18M322.02 256.98V266.65M323.23 247.70V260.77M324.45 250.30V260.00M325.66 246.45V257.12" stroke="#3a6cff" stroke-width="0.8" stroke-dasharray="1,1.2" fill="none" opacity="0.5"/><path d="M108.00 232.50 L109.22 239.65 L110.43 235.99 L111.65 236.85 L112.86 242.02 L114.08 234.50 L115.30 237.47 L116.51 234.06 L117.73 231.51 L118.94 240.89 L120.16 241.80 L121.38 235.26 L122.59 244.28 L123.81 243.52 L125.02 238.90 L126.24 238.90 L127.46 235.29 L128.67 239.57 L129.89 240.96 L131.10 242.39 L132.32 244.80 L133.54 241.23 L134.75 248.22 L135.97 253.93 L137.18 245.02 L138.40 248.70 L139.62 246.09 L140.83 244.98 L142.05 250.87 L143.26 248.37 L144.48 249.50 L145.70 248.41 L146.91 252.06 L148.13 244.69 L149.34 245.92 L150.56 251.80 L151.78 248.28 L152.99 243.63 L154.21 248.54 L155.42 245.60 L156.64 252.00 L157.86 251.18 L159.07 263.18 L160.29 262.03 L161.50 254.82 L162.72 254.00 L163.94 262.98 L165.15 255.89 L166.37 259.91 L167.58 250.93 L168.80 255.60 L170.02 256.58 L171.23 249.17 L172.45 259.11 L173.66 261.19 L174.88 254.00 L176.10 252.43 L177.31 259.38 L178.53 260.13 L179.74 253.67 L180.96 256.70 L182.18 254.49 L183.39 260.30 L184.61 261.63 L185.82 250.24 L187.04 254.00 L188.26 262.77 L189.47 256.02 L190.69 256.85 L191.90 251.02 L193.12 255.10 L194.34 258.34 L195.55 264.44 L196.77 266.43 L197.98 259.16 L199.20 252.50 L200.42 253.96 L201.63 253.28 L202.85 259.56 L204.06 263.92 L205.28 260.60 L206.50 263.38 L207.71 260.75 L208.93 259.75 L210.14 258.90 L211.36 256.30 L212.58 257.02 L213.79 262.91 L215.01 266.13 L216.22 260.08 L217.44 257.10 L218.66 255.40 L219.87 254.40 L221.09 256.32 L222.30 255.65 L223.52 258.60 L224.74 256.15 L225.95 260.65 L227.17 259.75 L228.38 250.08 L229.60 250.50 L230.82 263.51 L232.03 259.30 L233.25 257.96 L234.46 258.98 L235.68 258.60 L236.90 255.82 L238.11 255.44 L239.33 253.40 L240.54 256.72 L241.76 255.60 L242.98 251.77 L244.19 255.66 L245.41 251.80 L246.62 256.14 L247.84 254.00 L249.06 249.34 L250.27 255.15 L251.49 251.29 L252.70 257.78 L253.92 257.10 L255.14 255.29 L256.35 259.70 L257.57 260.35 L258.78 258.26 L260.00 253.30 L261.22 253.57 L262.43 255.66 L263.65 254.48 L264.86 261.87 L266.08 260.20 L267.30 252.68 L268.51 256.80 L269.73 256.48 L270.94 264.13 L272.16 256.30 L273.38 262.91 L274.59 264.55 L275.81 255.31 L277.02 257.87 L278.24 253.30 L279.46 250.32 L280.67 262.95 L281.89 253.40 L283.10 245.66 L284.32 255.60 L285.54 258.28 L286.75 255.74 L287.97 255.83 L289.18 254.17 L290.40 256.30 L291.62 256.24 L292.83 252.49 L294.05 251.61 L295.26 260.03 L296.48 257.10 L297.70 250.07 L298.91 252.32 L300.13 250.49 L301.34 254.94 L302.56 247.90 L303.78 252.43 L304.99 251.05 L306.21 257.48 L307.42 253.82 L308.64 251.80 L309.86 255.45 L311.07 254.58 L312.29 252.74 L313.50 253.53 L314.72 253.30 L315.94 244.10 L317.15 258.15 L318.37 254.55 L319.58 252.11 L320.80 252.50 L322.02 261.81 L323.23 254.23 L324.45 255.15 L325.66 251.79 L326.88 254.00" stroke="#3a6cff" stroke-width="1.1" stroke-dasharray="1,1" fill="none"/><path d="M108.00 227.71V237.29M106.20 227.71h3.60M106.20 237.29h3.60M114.08 227.90V241.10M112.28 227.90h3.60M112.28 241.10h3.60M120.16 235.88V247.72M118.36 235.88h3.60M118.36 247.72h3.60M126.24 234.13V243.67M124.44 234.13h3.60M124.44 243.67h3.60M132.32 239.37V250.23M130.52 239.37h3.60M130.52 250.23h3.60M138.40 243.67V253.73M136.60 243.67h3.60M136.60 253.73h3.60M144.48 244.60V254.40M142.68 244.60h3.60M142.68 254.40h3.60M150.56 247.06V256.54M148.76 247.06h3.60M148.76 256.54h3.60M156.64 246.41V257.59M154.84 246.41h3.60M154.84 257.59h3.60M162.72 249.11V258.89M160.92 249.11h3.60M160.92 258.89h3.60M168.80 249.83V261.37M167.00 249.83h3.60M167.00 261.37h3.60M174.88 249.14V258.86M173.08 249.14h3.60M173.08 258.86h3.60M180.96 251.29V262.11M179.16 251.29h3.60M179.16 262.11h3.60M187.04 249.05V258.95M185.24 249.05h3.60M185.24 258.95h3.60M193.12 249.43V260.77M191.32 249.43h3.60M191.32 260.77h3.60M199.20 247.02V257.98M197.40 247.02h3.60M197.40 257.98h3.60M205.28 255.61V265.59M203.48 255.61h3.60M203.48 265.59h3.60M211.36 251.29V261.31M209.56 251.29h3.60M209.56 261.31h3.60M217.44 251.82V262.38M215.64 251.82h3.60M215.64 262.38h3.60M223.52 252.91V264.29M221.72 252.91h3.60M221.72 264.29h3.60M229.60 244.26V256.74M227.80 244.26h3.60M227.80 256.74h3.60M235.68 253.94V263.26M233.88 253.94h3.60M233.88 263.26h3.60M241.76 250.77V260.43M239.96 250.77h3.60M239.96 260.43h3.60M247.84 249.24V258.76M246.04 249.24h3.60M246.04 258.76h3.60M253.92 251.70V262.50M252.12 251.70h3.60M252.12 262.50h3.60M260.00 248.57V258.03M258.20 248.57h3.60M258.20 258.03h3.60M266.08 255.29V265.11M264.28 255.29h3.60M264.28 265.11h3.60M272.16 251.10V261.50M270.36 251.10h3.60M270.36 261.50h3.60M278.24 247.49V259.11M276.44 247.49h3.60M276.44 259.11h3.60M284.32 250.81V260.39M282.52 250.81h3.60M282.52 260.39h3.60M290.40 250.72V261.88M288.60 250.72h3.60M288.60 261.88h3.60M296.48 252.34V261.86M294.68 252.34h3.60M294.68 261.86h3.60M302.56 242.85V252.95M300.76 242.85h3.60M300.76 252.95h3.60M308.64 246.31V257.29M306.84 246.31h3.60M306.84 257.29h3.60M314.72 247.83V258.77M312.92 247.83h3.60M312.92 258.77h3.60M320.80 247.81V257.19M319.00 247.81h3.60M319.00 257.19h3.60M326.88 249.34V258.66M325.08 249.34h3.60M325.08 258.66h3.60" stroke="#3a6cff" stroke-width="0.9" fill="none"/><polygon points="108.00,230.10 110.40,232.50 108.00,234.90 105.60,232.50" fill="#fff" stroke="#3a6cff" stroke-width="0.9"/><polygon points="114.08,232.10 116.48,234.50 114.08,236.90 111.68,234.50" fill="#fff" stroke="#3a6cff" stroke-width="0.9"/><polygon points="120.16,239.40 122.56,241.80 120.16,244.20 117.76,241.80" fill="#fff" stroke="#3a6cff" stroke-width="0.9"/><polygon points="126.24,236.50 128.64,238.90 126.24,241.30 123.84,238.90" fill="#fff" stroke="#3a6cff" stroke-width="0.9"/><polygon points="132.32,242.40 134.72,244.80 132.32,247.20 129.92,244.80" fill="#fff" stroke="#3a6cff" stroke-width="0.9"/><polygon points="138.40,246.30 140.80,248.70 138.40,251.10 136.00,248.70" fill="#fff" stroke="#3a6cff" stroke-width="0.9"/><polygon points="144.48,247.10 146.88,249.50 144.48,251.90 142.08,249.50" fill="#fff" stroke="#3a6cff" stroke-width="0.9"/><polygon points="150.56,249.40 152.96,251.80 150.56,254.20 148.16,251.80" fill="#fff" stroke="#3a6cff" stroke-width="0.9"/><polygon points="156.64,249.60 159.04,252.00 156.64,254.40 154.24,252.00" fill="#fff" stroke="#3a6cff" stroke-width="0.9"/><polygon points="162.72,251.60 165.12,254.00 162.72,256.40 160.32,254.00" fill="#fff" stroke="#3a6cff" stroke-width="0.9"/><polygon points="168.80,253.20 171.20,255.60 168.80,258.00 166.40,255.60" fill="#fff" stroke="#3a6cff" stroke-width="0.9"/><polygon points="174.88,251.60 177.28,254.00 174.88,256.40 172.48,254.00" fill="#fff" stroke="#3a6cff" stroke-width="0.9"/><polygon points="180.96,254.30 183.36,256.70 180.96,259.10 178.56,256.70" fill="#fff" stroke="#3a6cff" stroke-width="0.9"/><polygon points="187.04,251.60 189.44,254.00 187.04,256.40 184.64,254.00" fill="#fff" stroke="#3a6cff" stroke-width="0.9"/><polygon points="193.12,252.70 195.52,255.10 193.12,257.50 190.72,255.10" fill="#fff" stroke="#3a6cff" stroke-width="0.9"/><polygon points="199.20,250.10 201.60,252.50 199.20,254.90 196.80,252.50" fill="#fff" stroke="#3a6cff" stroke-width="0.9"/><polygon points="205.28,258.20 207.68,260.60 205.28,263.00 202.88,260.60" fill="#fff" stroke="#3a6cff" stroke-width="0.9"/><polygon points="211.36,253.90 213.76,256.30 211.36,258.70 208.96,256.30" fill="#fff" stroke="#3a6cff" stroke-width="0.9"/><polygon points="217.44,254.70 219.84,257.10 217.44,259.50 215.04,257.10" fill="#fff" stroke="#3a6cff" stroke-width="0.9"/><polygon points="223.52,256.20 225.92,258.60 223.52,261.00 221.12,258.60" fill="#fff" stroke="#3a6cff" stroke-width="0.9"/><polygon points="229.60,248.10 232.00,250.50 229.60,252.90 227.20,250.50" fill="#fff" stroke="#3a6cff" stroke-width="0.9"/><polygon points="235.68,256.20 238.08,258.60 235.68,261.00 233.28,258.60" fill="#fff" stroke="#3a6cff" stroke-width="0.9"/><polygon points="241.76,253.20 244.16,255.60 241.76,258.00 239.36,255.60" fill="#fff" stroke="#3a6cff" stroke-width="0.9"/><polygon points="247.84,251.60 250.24,254.00 247.84,256.40 245.44,254.00" fill="#fff" stroke="#3a6cff" stroke-width="0.9"/><polygon points="253.92,254.70 256.32,257.10 253.92,259.50 251.52,257.10" fill="#fff" stroke="#3a6cff" stroke-width="0.9"/><polygon points="260.00,250.90 262.40,253.30 260.00,255.70 257.60,253.30" fill="#fff" stroke="#3a6cff" stroke-width="0.9"/><polygon points="266.08,257.80 268.48,260.20 266.08,262.60 263.68,260.20" fill="#fff" stroke="#3a6cff" stroke-width="0.9"/><polygon points="272.16,253.90 274.56,256.30 272.16,258.70 269.76,256.30" fill="#fff" stroke="#3a6cff" stroke-width="0.9"/><polygon points="278.24,250.90 280.64,253.30 278.24,255.70 275.84,253.30" fill="#fff" stroke="#3a6cff" stroke-width="0.9"/><polygon points="284.32,253.20 286.72,255.60 284.32,258.00 281.92,255.60" fill="#fff" stroke="#3a6cff" stroke-width="0.9"/><polygon points="290.40,253.90 292.80,256.30 290.40,258.70 288.00,256.30" fill="#fff" stroke="#3a6cff" stroke-width="0.9"/><polygon points="296.48,254.70 298.88,257.10 296.48,259.50 294.08,257.10" fill="#fff" stroke="#3a6cff" stroke-width="0.9"/><polygon points="302.56,245.50 304.96,247.90 302.56,250.30 300.16,247.90" fill="#fff" stroke="#3a6cff" stroke-width="0.9"/><polygon points="308.64,249.40 311.04,251.80 308.64,254.20 306.24,251.80" fill="#fff" stroke="#3a6cff" stroke-width="0.9"/><polygon points="314.72,250.90 317.12,253.30 314.72,255.70 312.32,253.30" fill="#fff" stroke="#3a6cff" stroke-width="0.9"/><polygon points="320.80,250.10 323.20,252.50 320.80,254.90 318.40,252.50" fill="#fff" stroke="#3a6cff" stroke-width="0.9"/><polygon points="326.88,251.60 329.28,254.00 326.88,256.40 324.48,254.00" fill="#fff" stroke="#3a6cff" stroke-width="0.9"/>
<path d="M109.22 235.12V246.12M110.43 234.42V244.94M111.65 233.91V243.78M112.86 230.58V243.76M115.30 229.74V239.35M116.51 229.15V240.21M117.73 229.80V240.37M118.94 230.54V240.64M121.38 233.64V243.64M122.59 224.21V235.35M123.81 220.88V231.93M125.02 226.09V235.62M127.46 229.94V239.15M128.67 233.77V245.11M129.89 230.78V242.71M131.10 230.00V239.80M133.54 237.05V246.46M134.75 238.88V248.19M135.97 238.01V247.89M137.18 238.08V248.22M139.62 232.89V246.31M140.83 234.74V245.38M142.05 229.59V239.42M143.26 238.88V248.75M145.70 232.01V243.27M146.91 234.73V244.45M148.13 238.77V248.74M149.34 239.96V249.27M151.78 247.27V257.67M152.99 241.58V250.83M154.21 235.74V246.57M155.42 235.99V246.43M157.86 239.98V250.30M159.07 235.38V250.07M160.29 239.07V250.86M161.50 229.71V241.96M163.94 234.34V245.45M165.15 243.04V256.15M166.37 237.86V247.54M167.58 244.66V255.16M170.02 240.75V250.38M171.23 242.22V251.84M172.45 241.53V252.53M173.66 237.48V249.46M176.10 237.46V247.90M177.31 240.07V250.96M178.53 234.75V245.09M179.74 236.12V246.54M182.18 240.13V250.21M183.39 237.83V248.33M184.61 236.03V245.67M185.82 236.17V245.88M188.26 237.82V248.14M189.47 236.16V246.48M190.69 224.94V235.94M191.90 232.56V244.14M194.34 238.57V248.43M195.55 229.18V238.44M196.77 240.71V252.14M197.98 236.36V245.72M200.42 230.86V242.02M201.63 233.60V243.34M202.85 231.51V244.75M204.06 244.62V254.10M206.50 229.50V239.80M207.71 234.46V244.30M208.93 233.23V245.71M210.14 235.54V244.85M212.58 221.89V231.34M213.79 225.73V236.03M215.01 226.63V237.53M216.22 230.40V241.76M218.66 220.33V230.33M219.87 234.70V244.97M221.09 231.53V242.76M222.30 234.91V245.99M224.74 231.69V241.36M225.95 229.64V238.86M227.17 229.65V239.21M228.38 232.91V243.65M230.82 233.48V243.15M232.03 229.67V239.46M233.25 231.48V242.95M234.46 232.03V241.96M236.90 229.30V239.94M238.11 222.40V233.18M239.33 234.20V244.12M240.54 231.75V241.79M242.98 239.15V248.41M244.19 238.76V250.26M245.41 236.98V246.48M246.62 232.00V241.71M249.06 233.46V245.36M250.27 233.35V242.74M251.49 228.67V237.91M252.70 235.41V245.59M255.14 235.12V244.45M256.35 240.61V252.75M257.57 228.19V238.45M258.78 237.97V248.37M261.22 242.94V252.76M262.43 239.00V248.60M263.65 236.49V246.97M264.86 241.42V252.40M267.30 245.55V254.96M268.51 244.99V254.93M269.73 238.12V249.05M270.94 237.38V249.11M273.38 238.62V247.84M274.59 240.12V251.57M275.81 247.62V256.96M277.02 238.55V251.22M279.46 246.03V255.65M280.67 242.87V254.20M281.89 240.53V250.10M283.10 233.18V243.47M285.54 238.70V248.65M286.75 240.41V250.17M287.97 240.68V249.91M289.18 240.59V251.66M291.62 243.11V254.19M292.83 244.64V255.07M294.05 239.36V251.07M295.26 239.22V249.49M297.70 245.57V255.08M298.91 246.10V256.23M300.13 241.90V252.63M301.34 238.51V248.61M303.78 241.44V251.73M304.99 242.51V252.23M306.21 243.05V252.59M307.42 244.53V253.96M309.86 242.13V255.97M311.07 240.38V252.39M312.29 250.22V259.54M313.50 240.90V250.41M315.94 242.06V252.81M317.15 244.32V254.07M318.37 250.16V261.82M319.58 253.49V264.74M322.02 237.23V249.61M323.23 244.15V254.04M324.45 245.46V258.56M325.66 242.59V253.27" stroke="#3ee83e" stroke-width="0.8" stroke-dasharray="1,1.2" fill="none" opacity="0.5"/><path d="M108.00 240.30 L109.22 240.62 L110.43 239.68 L111.65 238.85 L112.86 237.17 L114.08 235.00 L115.30 234.54 L116.51 234.68 L117.73 235.09 L118.94 235.59 L120.16 235.00 L121.38 238.64 L122.59 229.78 L123.81 226.41 L125.02 230.86 L126.24 225.20 L127.46 234.54 L128.67 239.44 L129.89 236.75 L131.10 234.90 L132.32 242.80 L133.54 241.76 L134.75 243.54 L135.97 242.95 L137.18 243.15 L138.40 240.50 L139.62 239.60 L140.83 240.06 L142.05 234.50 L143.26 243.82 L144.48 233.10 L145.70 237.64 L146.91 239.59 L148.13 243.75 L149.34 244.61 L150.56 248.40 L151.78 252.47 L152.99 246.21 L154.21 241.15 L155.42 241.21 L156.64 247.20 L157.86 245.14 L159.07 242.73 L160.29 244.96 L161.50 235.83 L162.72 240.70 L163.94 239.90 L165.15 249.60 L166.37 242.70 L167.58 249.91 L168.80 246.40 L170.02 245.57 L171.23 247.03 L172.45 247.03 L173.66 243.47 L174.88 243.00 L176.10 242.68 L177.31 245.51 L178.53 239.92 L179.74 241.33 L180.96 241.00 L182.18 245.17 L183.39 243.08 L184.61 240.85 L185.82 241.02 L187.04 239.50 L188.26 242.98 L189.47 241.32 L190.69 230.44 L191.90 238.35 L193.12 242.00 L194.34 243.50 L195.55 233.81 L196.77 246.43 L197.98 241.04 L199.20 244.10 L200.42 236.44 L201.63 238.47 L202.85 238.13 L204.06 249.36 L205.28 240.00 L206.50 234.65 L207.71 239.38 L208.93 239.47 L210.14 240.20 L211.36 238.00 L212.58 226.62 L213.79 230.88 L215.01 232.08 L216.22 236.08 L217.44 231.80 L218.66 225.33 L219.87 239.83 L221.09 237.14 L222.30 240.45 L223.52 237.20 L224.74 236.52 L225.95 234.25 L227.17 234.43 L228.38 238.28 L229.60 242.60 L230.82 238.31 L232.03 234.56 L233.25 237.22 L234.46 236.99 L235.68 225.70 L236.90 234.62 L238.11 227.79 L239.33 239.16 L240.54 236.77 L241.76 240.00 L242.98 243.78 L244.19 244.51 L245.41 241.73 L246.62 236.85 L247.84 244.10 L249.06 239.41 L250.27 238.04 L251.49 233.29 L252.70 240.50 L253.92 245.00 L255.14 239.78 L256.35 246.68 L257.57 233.32 L258.78 243.17 L260.00 243.00 L261.22 247.85 L262.43 243.80 L263.65 241.73 L264.86 246.91 L266.08 248.00 L267.30 250.26 L268.51 249.96 L269.73 243.58 L270.94 243.24 L272.16 245.00 L273.38 243.23 L274.59 245.85 L275.81 252.29 L277.02 244.89 L278.24 249.00 L279.46 250.84 L280.67 248.53 L281.89 245.31 L283.10 238.32 L284.32 247.00 L285.54 243.67 L286.75 245.29 L287.97 245.30 L289.18 246.12 L290.40 246.00 L291.62 248.65 L292.83 249.86 L294.05 245.22 L295.26 244.35 L296.48 248.00 L297.70 250.33 L298.91 251.16 L300.13 247.26 L301.34 243.56 L302.56 244.90 L303.78 246.58 L304.99 247.37 L306.21 247.82 L307.42 249.25 L308.64 251.80 L309.86 249.05 L311.07 246.38 L312.29 254.88 L313.50 245.65 L314.72 248.00 L315.94 247.44 L317.15 249.20 L318.37 255.99 L319.58 259.11 L320.80 250.00 L322.02 243.42 L323.23 249.09 L324.45 252.01 L325.66 247.93 L326.88 249.00" stroke="#3ee83e" stroke-width="1.1" stroke-dasharray="1,1" fill="none"/><path d="M108.00 235.28V245.32M106.20 235.28h3.60M106.20 245.32h3.60M114.08 229.39V240.61M112.28 229.39h3.60M112.28 240.61h3.60M120.16 229.27V240.73M118.36 229.27h3.60M118.36 240.73h3.60M126.24 220.16V230.24M124.44 220.16h3.60M124.44 230.24h3.60M132.32 237.14V248.46M130.52 237.14h3.60M130.52 248.46h3.60M138.40 235.59V245.41M136.60 235.59h3.60M136.60 245.41h3.60M144.48 228.13V238.07M142.68 228.13h3.60M142.68 238.07h3.60M150.56 242.88V253.92M148.76 242.88h3.60M148.76 253.92h3.60M156.64 242.30V252.10M154.84 242.30h3.60M154.84 252.10h3.60M162.72 235.97V245.43M160.92 235.97h3.60M160.92 245.43h3.60M168.80 240.83V251.97M167.00 240.83h3.60M167.00 251.97h3.60M174.88 237.85V248.15M173.08 237.85h3.60M173.08 248.15h3.60M180.96 236.35V245.65M179.16 236.35h3.60M179.16 245.65h3.60M187.04 234.03V244.97M185.24 234.03h3.60M185.24 244.97h3.60M193.12 237.26V246.74M191.32 237.26h3.60M191.32 246.74h3.60M199.20 238.55V249.65M197.40 238.55h3.60M197.40 249.65h3.60M205.28 234.24V245.76M203.48 234.24h3.60M203.48 245.76h3.60M211.36 232.78V243.22M209.56 232.78h3.60M209.56 243.22h3.60M217.44 226.53V237.07M215.64 226.53h3.60M215.64 237.07h3.60M223.52 231.81V242.59M221.72 231.81h3.60M221.72 242.59h3.60M229.60 237.78V247.42M227.80 237.78h3.60M227.80 247.42h3.60M235.68 220.31V231.09M233.88 220.31h3.60M233.88 231.09h3.60M241.76 235.27V244.73M239.96 235.27h3.60M239.96 244.73h3.60M247.84 238.95V249.25M246.04 238.95h3.60M246.04 249.25h3.60M253.92 240.20V249.80M252.12 240.20h3.60M252.12 249.80h3.60M260.00 237.47V248.53M258.20 237.47h3.60M258.20 248.53h3.60M266.08 242.72V253.28M264.28 242.72h3.60M264.28 253.28h3.60M272.16 239.93V250.07M270.36 239.93h3.60M270.36 250.07h3.60M278.24 244.09V253.91M276.44 244.09h3.60M276.44 253.91h3.60M284.32 242.30V251.70M282.52 242.30h3.60M282.52 251.70h3.60M290.40 239.20V252.80M288.60 239.20h3.60M288.60 252.80h3.60M296.48 242.63V253.37M294.68 242.63h3.60M294.68 253.37h3.60M302.56 238.88V250.92M300.76 238.88h3.60M300.76 250.92h3.60M308.64 246.29V257.31M306.84 246.29h3.60M306.84 257.31h3.60M314.72 242.17V253.83M312.92 242.17h3.60M312.92 253.83h3.60M320.80 244.99V255.01M319.00 244.99h3.60M319.00 255.01h3.60M326.88 243.54V254.46M325.08 243.54h3.60M325.08 254.46h3.60" stroke="#3ee83e" stroke-width="0.9" fill="none"/><rect x="106.20" y="238.50" width="3.6" height="3.6" fill="#fff" stroke="#3ee83e" stroke-width="0.9"/><rect x="112.28" y="233.20" width="3.6" height="3.6" fill="#fff" stroke="#3ee83e" stroke-width="0.9"/><rect x="118.36" y="233.20" width="3.6" height="3.6" fill="#fff" stroke="#3ee83e" stroke-width="0.9"/><rect x="124.44" y="223.40" width="3.6" height="3.6" fill="#fff" stroke="#3ee83e" stroke-width="0.9"/><rect x="130.52" y="241.00" width="3.6" height="3.6" fill="#fff" stroke="#3ee83e" stroke-width="0.9"/><rect x="136.60" y="238.70" width="3.6" height="3.6" fill="#fff" stroke="#3ee83e" stroke-width="0.9"/><rect x="142.68" y="231.30" width="3.6" height="3.6" fill="#fff" stroke="#3ee83e" stroke-width="0.9"/><rect x="148.76" y="246.60" width="3.6" height="3.6" fill="#fff" stroke="#3ee83e" stroke-width="0.9"/><rect x="154.84" y="245.40" width="3.6" height="3.6" fill="#fff" stroke="#3ee83e" stroke-width="0.9"/><rect x="160.92" y="238.90" width="3.6" height="3.6" fill="#fff" stroke="#3ee83e" stroke-width="0.9"/><rect x="167.00" y="244.60" width="3.6" height="3.6" fill="#fff" stroke="#3ee83e" stroke-width="0.9"/><rect x="173.08" y="241.20" width="3.6" height="3.6" fill="#fff" stroke="#3ee83e" stroke-width="0.9"/><rect x="179.16" y="239.20" width="3.6" height="3.6" fill="#fff" stroke="#3ee83e" stroke-width="0.9"/><rect x="185.24" y="237.70" width="3.6" height="3.6" fill="#fff" stroke="#3ee83e" stroke-width="0.9"/><rect x="191.32" y="240.20" width="3.6" height="3.6" fill="#fff" stroke="#3ee83e" stroke-width="0.9"/><rect x="197.40" y="242.30" width="3.6" height="3.6" fill="#fff" stroke="#3ee83e" stroke-width="0.9"/><rect x="203.48" y="238.20" width="3.6" height="3.6" fill="#fff" stroke="#3ee83e" stroke-width="0.9"/><rect x="209.56" y="236.20" width="3.6" height="3.6" fill="#fff" stroke="#3ee83e" stroke-width="0.9"/><rect x="215.64" y="230.00" width="3.6" height="3.6" fill="#fff" stroke="#3ee83e" stroke-width="0.9"/><rect x="221.72" y="235.40" width="3.6" height="3.6" fill="#fff" stroke="#3ee83e" stroke-width="0.9"/><rect x="227.80" y="240.80" width="3.6" height="3.6" fill="#fff" stroke="#3ee83e" stroke-width="0.9"/><rect x="233.88" y="223.90" width="3.6" height="3.6" fill="#fff" stroke="#3ee83e" stroke-width="0.9"/><rect x="239.96" y="238.20" width="3.6" height="3.6" fill="#fff" stroke="#3ee83e" stroke-width="0.9"/><rect x="246.04" y="242.30" width="3.6" height="3.6" fill="#fff" stroke="#3ee83e" stroke-width="0.9"/><rect x="252.12" y="243.20" width="3.6" height="3.6" fill="#fff" stroke="#3ee83e" stroke-width="0.9"/><rect x="258.20" y="241.20" width="3.6" height="3.6" fill="#fff" stroke="#3ee83e" stroke-width="0.9"/><rect x="264.28" y="246.20" width="3.6" height="3.6" fill="#fff" stroke="#3ee83e" stroke-width="0.9"/><rect x="270.36" y="243.20" width="3.6" height="3.6" fill="#fff" stroke="#3ee83e" stroke-width="0.9"/><rect x="276.44" y="247.20" width="3.6" height="3.6" fill="#fff" stroke="#3ee83e" stroke-width="0.9"/><rect x="282.52" y="245.20" width="3.6" height="3.6" fill="#fff" stroke="#3ee83e" stroke-width="0.9"/><rect x="288.60" y="244.20" width="3.6" height="3.6" fill="#fff" stroke="#3ee83e" stroke-width="0.9"/><rect x="294.68" y="246.20" width="3.6" height="3.6" fill="#fff" stroke="#3ee83e" stroke-width="0.9"/><rect x="300.76" y="243.10" width="3.6" height="3.6" fill="#fff" stroke="#3ee83e" stroke-width="0.9"/><rect x="306.84" y="250.00" width="3.6" height="3.6" fill="#fff" stroke="#3ee83e" stroke-width="0.9"/><rect x="312.92" y="246.20" width="3.6" height="3.6" fill="#fff" stroke="#3ee83e" stroke-width="0.9"/><rect x="319.00" y="248.20" width="3.6" height="3.6" fill="#fff" stroke="#3ee83e" stroke-width="0.9"/><rect x="325.08" y="247.20" width="3.6" height="3.6" fill="#fff" stroke="#3ee83e" stroke-width="0.9"/>
<rect x="76.2" y="12.2" width="419.8" height="289.2" fill="none" stroke="#000" stroke-width="1.7"/>
<line x1="118.0" y1="12.2" x2="118.0" y2="301.4" stroke="#000" stroke-width="1.8"/>
<line x1="76.2" y1="260.12" x2="83.70" y2="260.12" stroke="#000" stroke-width="1.3"/>
<line x1="76.2" y1="218.73" x2="83.70" y2="218.73" stroke="#000" stroke-width="1.3"/>
<line x1="76.2" y1="177.34" x2="83.70" y2="177.34" stroke="#000" stroke-width="1.3"/>
<line x1="76.2" y1="135.96" x2="83.70" y2="135.96" stroke="#000" stroke-width="1.3"/>
<line x1="76.2" y1="94.58" x2="83.70" y2="94.58" stroke="#000" stroke-width="1.3"/>
<line x1="76.2" y1="53.19" x2="83.70" y2="53.19" stroke="#000" stroke-width="1.3"/>
<line x1="222.80" y1="301.4" x2="222.80" y2="293.90" stroke="#000" stroke-width="1.4"/>
<line x1="222.80" y1="12.2" x2="222.80" y2="20.00" stroke="#000" stroke-width="1.4"/>
<line x1="327.80" y1="301.4" x2="327.80" y2="293.90" stroke="#000" stroke-width="1.4"/>
<line x1="327.80" y1="12.2" x2="327.80" y2="20.00" stroke="#000" stroke-width="1.4"/>
<line x1="432.80" y1="301.4" x2="432.80" y2="293.90" stroke="#000" stroke-width="1.4"/>
<line x1="432.80" y1="12.2" x2="432.80" y2="20.00" stroke="#000" stroke-width="1.4"/>
<line x1="496.0" y1="58.24" x2="504.00" y2="58.24" stroke="#000" stroke-width="1.3"/>
<line x1="496.0" y1="119.78" x2="504.00" y2="119.78" stroke="#000" stroke-width="1.3"/>
<line x1="496.0" y1="181.32" x2="504.00" y2="181.32" stroke="#000" stroke-width="1.3"/>
<line x1="496.0" y1="242.86" x2="504.00" y2="242.86" stroke="#000" stroke-width="1.3"/>
<text x="71.2" y="306.80" text-anchor="end" class="b" font-size="15">0.0</text>
<text x="71.2" y="265.42" text-anchor="end" class="b" font-size="15">0.5</text>
<text x="71.2" y="224.03" text-anchor="end" class="b" font-size="15">1.0</text>
<text x="71.2" y="182.65" text-anchor="end" class="b" font-size="15">1.5</text>
<text x="71.2" y="141.26" text-anchor="end" class="b" font-size="15">2.0</text>
<text x="71.2" y="99.88" text-anchor="end" class="b" font-size="15">2.5</text>
<text x="71.2" y="58.49" text-anchor="end" class="b" font-size="15">3.0</text>
<text x="71.2" y="17.11" text-anchor="end" class="b" font-size="15">3.5</text>
<text x="117.80" y="320.8" text-anchor="middle" class="b" font-size="15">0</text>
<text x="222.80" y="320.8" text-anchor="middle" class="b" font-size="15">5</text>
<text x="327.80" y="320.8" text-anchor="middle" class="b" font-size="15">10</text>
<text x="432.80" y="320.8" text-anchor="middle" class="b" font-size="15">15</text>
<text x="509.2" y="63.44" class="b" font-size="15">-8</text>
<text x="509.2" y="124.98" class="b" font-size="15">-6</text>
<text x="509.2" y="186.52" class="b" font-size="15">-4</text>
<text x="509.2" y="248.06" class="b" font-size="15">-2</text>
<text x="251.0" y="354" class="b" font-size="13.4" textLength="53.4" lengthAdjust="spacingAndGlyphs">Time / 10</text>
<text x="305.7" y="344.7" class="b" font-size="9">3</text>
<text x="314.6" y="354" class="b" font-size="13.4">s</text>
<text transform="translate(23.3,234.0) rotate(-90)" class="b" font-size="13.4" textLength="117.6" lengthAdjust="spacingAndGlyphs">GCB Coverage / 10</text>
<text transform="translate(14.4,116.4) rotate(-90)" class="b" font-size="7.2">14</text>
<text transform="translate(22.9,104.9) rotate(-90)" class="b" font-size="13.4" textLength="18.0" lengthAdjust="spacingAndGlyphs">cm</text>
<text transform="translate(13.8,83.6) rotate(-90)" class="b" font-size="7.2">-2</text>
<text transform="translate(543.3,270.0) rotate(-90)" class="b" font-size="12.4" textLength="221.0" lengthAdjust="spacingAndGlyphs">Intergrated IR Absorbance / arb. unit</text>
<rect x="280.7" y="174.3" width="189.90000000000003" height="53.29999999999998" fill="#fff" stroke="#000" stroke-width="1.2"/>
<text x="284" y="186.8" class="r" font-size="10.7" textLength="114.6" lengthAdjust="spacingAndGlyphs">GCB Coverage from NR</text>
<text x="284" y="198.7" class="r" font-size="10.7" textLength="99.4" lengthAdjust="spacingAndGlyphs">CH peak areas asym</text>
<text x="284" y="210.5" class="r" font-size="10.7" textLength="99.4" lengthAdjust="spacingAndGlyphs">CD peak areas asym</text>
<text x="284" y="222.4" class="r" font-size="10.7" textLength="183.3" lengthAdjust="spacingAndGlyphs">Every 5th collected IR spectrum shown</text>
<text x="409.7" y="198.7" class="r" font-size="10.7">sym</text>
<text x="409.7" y="210.5" class="r" font-size="10.7">sym</text>
<circle cx="413.4" cy="183.3" r="3.1" fill="#000"/>
<line x1="384.6" y1="195.4" x2="404.2" y2="195.4" stroke="#ff0000" stroke-width="1.1" stroke-dasharray="1,1"/>
<polygon points="395.1,191.0 391.1,197.7 399.1,197.7" fill="#ff0000"/>
<line x1="430" y1="195.4" x2="437" y2="195.4" stroke="#ff00e0" stroke-width="1.1" stroke-dasharray="1.5,0.6"/>
<line x1="444" y1="195.4" x2="450.2" y2="195.4" stroke="#ff00e0" stroke-width="1.1" stroke-dasharray="1,1"/>
<polygon points="436.2,192.9 444.7,192.9 440.45,200.1" fill="#ff00e0"/>
<line x1="384.6" y1="207.2" x2="404.2" y2="207.2" stroke="#3a6cff" stroke-width="1.1" stroke-dasharray="1,1"/>
<polygon points="394.7,202.8 399.3,207.2 394.7,211.5 390.1,207.2" fill="#fff" stroke="#3a6cff" stroke-width="1.1"/>
<line x1="430" y1="207.2" x2="437" y2="207.2" stroke="#3ee83e" stroke-width="1.1"/>
<line x1="444" y1="207.2" x2="450.2" y2="207.2" stroke="#3ee83e" stroke-width="1.1" stroke-dasharray="1,1"/>
<rect x="437.4" y="203.7" width="6.4" height="6.6" fill="#fff" stroke="#3ee83e" stroke-width="1.2"/>
</svg>
</body></html>
